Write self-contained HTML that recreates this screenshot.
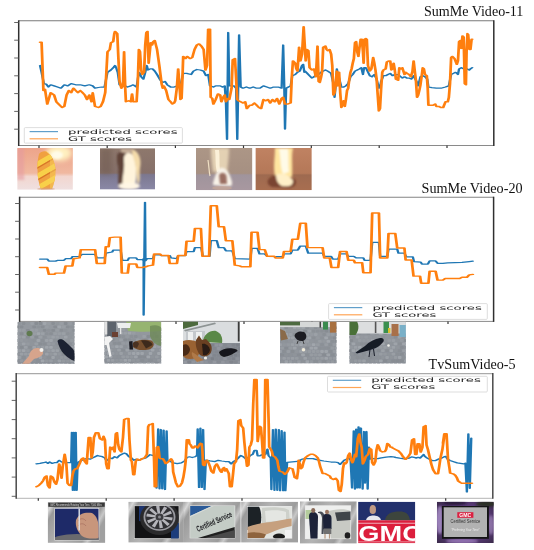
<!DOCTYPE html>
<html><head><meta charset="utf-8"><title>Summary scores</title>
<style>
html,body{margin:0;padding:0;background:#fff;}
body{width:534px;height:550px;overflow:hidden;}
svg{display:block;}
</style></head>
<body>
<svg width="534" height="550" viewBox="0 0 534 550">
<rect x="0" y="0" width="534" height="550" fill="#fff"/>
<text x="423.9" y="16.3" font-family="Liberation Serif, serif" font-size="14" fill="#111" textLength="99.5" lengthAdjust="spacingAndGlyphs">SumMe Video-11</text>
<text x="421.6" y="193.2" font-family="Liberation Serif, serif" font-size="14" fill="#111" textLength="101" lengthAdjust="spacingAndGlyphs">SumMe Video-20</text>
<text x="428.6" y="369.0" font-family="Liberation Serif, serif" font-size="14" fill="#111" textLength="87" lengthAdjust="spacingAndGlyphs">TvSumVideo-5</text>
<line x1="18.7" y1="20.8" x2="493.8" y2="20.8" stroke="#7a7a7a" stroke-width="1.1"/>
<line x1="18.7" y1="145.5" x2="493.8" y2="145.5" stroke="#8a8a8a" stroke-width="1.0"/>
<line x1="18.7" y1="20.3" x2="18.7" y2="146.0" stroke="#303030" stroke-width="1.5"/>
<line x1="493.8" y1="20.3" x2="493.8" y2="146.0" stroke="#303030" stroke-width="1.5"/>
<line x1="14.2" y1="22.5" x2="18.7" y2="22.5" stroke="#555" stroke-width="0.9"/>
<line x1="14.2" y1="40.2" x2="18.7" y2="40.2" stroke="#555" stroke-width="0.9"/>
<line x1="14.2" y1="58" x2="18.7" y2="58" stroke="#555" stroke-width="0.9"/>
<line x1="14.2" y1="75.8" x2="18.7" y2="75.8" stroke="#555" stroke-width="0.9"/>
<line x1="14.2" y1="93.6" x2="18.7" y2="93.6" stroke="#555" stroke-width="0.9"/>
<line x1="14.2" y1="111.4" x2="18.7" y2="111.4" stroke="#555" stroke-width="0.9"/>
<line x1="14.2" y1="129.2" x2="18.7" y2="129.2" stroke="#555" stroke-width="0.9"/>
<line x1="39" y1="145.5" x2="39" y2="148.0" stroke="#333" stroke-width="1.2"/>
<line x1="107.2" y1="145.5" x2="107.2" y2="148.0" stroke="#333" stroke-width="1.2"/>
<line x1="175.4" y1="145.5" x2="175.4" y2="148.0" stroke="#333" stroke-width="1.2"/>
<line x1="243.5" y1="145.5" x2="243.5" y2="148.0" stroke="#333" stroke-width="1.2"/>
<line x1="311.3" y1="145.5" x2="311.3" y2="148.0" stroke="#333" stroke-width="1.2"/>
<line x1="379.2" y1="145.5" x2="379.2" y2="148.0" stroke="#333" stroke-width="1.2"/>
<line x1="447" y1="145.5" x2="447" y2="148.0" stroke="#333" stroke-width="1.2"/>
<g transform="scale(1.9 1)"><polyline points="21.05,65.5 21.89,72.3 23.09,83.6 24.28,84.1 25.48,87.0 26.67,84.8 28.47,85.9 30.26,87.0 32.06,88.2 33.85,84.8 35.65,85.9 37.44,83.6 39.83,84.8 42.22,84.8 44.62,85.9 47.01,84.8 48.80,85.9 50.00,88.2 51.79,87.5 53.59,87.0 55.02,87.0 56.58,72.3 58.37,70.0 60.17,66.6 60.53,65.5 61.12,67.7 61.96,72.3 62.92,84.8 64.11,85.9 65.91,85.9 67.11,87.0 68.90,85.9 70.10,84.8 71.89,87.0 73.09,72.3 73.68,73.4 74.28,76.8 75.48,79.1 76.44,72.3 77.27,65.5 77.87,70.0 79.07,68.9 80.26,68.9 81.46,71.1 82.66,74.5 84.45,80.2 85.65,82.5 86.84,81.4 88.04,84.8 89.83,87.0 91.63,87.0 93.42,85.9 95.22,83.6 96.41,73.4 98.21,73.4 100.60,74.5 101.79,71.1 103.59,69.5 105.38,70.0 107.18,71.1 108.37,75.7 109.57,74.5 110.53,85.9 112.32,87.0 113.52,85.9 114.71,85.9 115.91,85.9 117.11,87.0 118.30,85.9 118.90,101.8 119.50,139.3 120.10,32.5 120.69,85.9 121.89,85.9 123.09,85.9 124.28,88.2 124.88,139.3 125.84,34.8 126.67,87.0 127.87,88.2 129.67,87.0 131.46,88.2 133.25,87.0 135.05,88.2 136.84,88.2 138.64,85.9 140.43,87.0 142.22,88.2 144.02,87.0 146.41,87.0 148.21,88.2 149.04,45.0 149.64,88.2 150.00,129.1 150.60,88.2 151.79,87.0 152.99,85.9 153.83,75.7 155.38,74.5 156.58,72.3 157.78,71.1 158.97,65.5 159.57,64.3 160.17,72.3 160.53,71.1 161.72,73.4 162.92,75.7 164.11,78.0 165.31,76.8 166.51,74.5 167.70,74.5 168.90,72.3 170.10,71.1 171.29,70.0 172.49,71.1 174.28,73.4 175.48,83.6 176.08,97.3 176.67,85.9 177.27,68.9 177.87,74.5 178.47,78.0 179.07,82.5 179.67,87.0 180.86,87.0 182.06,85.9 183.25,83.6 184.45,76.8 185.65,74.5 186.84,71.1 188.04,70.0 189.23,68.9 190.19,67.7 191.03,74.5 191.63,67.7 192.58,67.7 193.42,71.1 194.62,75.7 195.81,76.8 197.01,74.5 198.21,79.1 199.40,88.2 200.00,87.0 200.60,81.4 201.79,75.7 202.99,75.7 204.19,74.5 205.38,73.4 206.58,75.7 207.78,74.5 209.57,74.5 211.72,78.0 212.92,76.8 214.11,78.0 215.31,78.0 216.51,79.1 217.70,75.7 218.30,78.0 219.50,82.5 220.10,85.9 221.29,76.8 222.49,75.7 223.68,76.8 224.88,79.1 225.48,87.0 227.27,87.7 229.67,88.2 232.06,88.2 234.45,87.0 236.24,85.9 237.44,74.5 238.64,73.4 239.83,72.3 241.03,74.5 241.63,68.9 242.82,67.7 244.02,68.9 245.22,70.0 245.81,68.9 247.01,70.0 247.61,68.9 248.56,67.7" fill="none" stroke="#1f77b4" stroke-width="1.25" stroke-linejoin="round" stroke-linecap="round"/></g>
<g transform="scale(1.9 1)"><polyline points="21.05,42.3 21.89,42.3 22.85,90.5 23.68,89.3 24.88,104.1 26.67,92.7 28.47,95.0 29.67,101.8 30.86,104.1 32.66,107.5 33.85,106.4 35.05,95.0 36.24,90.5 37.44,92.7 38.64,88.2 39.83,90.5 41.03,92.7 42.22,90.5 43.42,92.7 44.62,95.0 45.81,99.5 47.01,95.0 48.21,101.8 48.80,92.7 50.00,106.4 51.79,107.5 52.99,106.4 54.19,101.8 55.38,92.7 56.58,51.8 57.78,49.5 58.37,42.7 59.57,41.6 60.17,33.6 60.53,31.4 61.72,33.6 62.32,58.6 62.92,81.4 63.88,88.2 64.71,85.9 65.31,51.8 65.91,88.2 66.27,101.8 67.70,100.7 68.90,101.8 69.50,93.9 70.10,101.8 71.89,101.8 72.49,83.6 73.09,49.5 73.68,51.8 74.28,70.0 74.88,74.5 75.84,72.3 76.44,45.0 77.03,32.5 77.63,31.4 78.23,63.2 78.71,54.1 79.31,42.7 80.02,45.0 80.62,41.6 81.46,40.5 82.06,45.0 82.66,49.5 83.85,65.5 85.05,83.6 85.65,88.2 86.24,85.9 87.44,90.5 88.64,99.5 89.83,101.8 90.67,104.1 91.63,103.0 92.22,100.7 93.06,88.2 93.78,68.9 94.38,83.6 94.98,99.5 95.57,98.4 96.05,76.8 96.41,56.4 97.61,58.6 98.56,56.4 100.00,58.6 101.20,57.5 102.39,49.5 103.59,45.0 104.78,43.9 105.98,46.1 107.18,49.5 108.13,70.0 108.97,65.5 109.57,29.1 110.53,29.1 110.89,97.3 111.72,98.4 112.32,104.1 113.52,99.5 114.71,93.9 115.91,95.0 116.51,101.8 117.46,97.3 118.30,95.0 118.90,101.8 119.86,98.4 120.69,99.5 121.89,88.2 122.49,59.8 123.68,58.6 124.28,79.1 124.88,99.5 125.48,100.7 126.67,101.8 127.87,103.0 129.07,101.8 129.90,108.6 131.46,105.2 132.66,105.2 133.85,103.0 135.05,105.2 136.24,107.5 137.44,108.6 138.64,99.5 139.83,100.7 141.03,99.5 142.22,103.0 143.42,99.5 144.62,101.8 145.81,98.4 147.01,104.1 148.21,98.4 149.04,97.3 150.00,104.1 151.20,104.1 152.99,103.0 153.59,76.8 154.19,60.9 155.38,63.2 155.98,68.9 156.58,71.1 157.42,47.3 158.13,60.9 158.97,54.1 159.81,26.8 160.89,60.9 161.48,49.5 162.32,50.7 162.92,67.7 164.11,70.0 165.31,68.9 166.27,76.8 167.11,46.1 167.70,81.4 168.30,82.5 168.90,78.0 169.50,72.3 170.10,47.3 171.29,46.1 171.89,49.5 172.49,50.7 173.44,49.5 174.28,54.1 174.88,65.5 175.48,95.0 176.08,92.7 176.67,83.6 177.27,71.1 177.87,85.9 178.47,72.3 179.07,92.7 179.67,107.5 180.26,104.1 180.86,100.7 181.46,106.4 182.06,99.5 182.66,90.5 183.25,88.2 183.85,79.1 184.45,72.3 185.05,68.9 185.65,63.2 186.24,58.6 186.84,42.7 187.44,41.6 188.04,51.8 188.64,56.4 189.23,47.3 189.83,39.3 190.43,39.3 191.03,51.8 191.39,63.2 191.87,39.3 192.58,38.6 193.06,39.3 193.66,65.5 194.62,71.1 195.45,68.9 196.41,57.5 197.01,63.2 197.61,70.0 198.21,79.1 198.80,95.0 199.40,110.9 200.00,108.6 200.60,88.2 201.20,72.3 201.79,70.0 202.99,68.9 203.59,62.0 204.55,60.9 205.38,60.9 205.98,70.0 206.58,68.9 207.18,63.2 207.78,70.0 208.37,79.1 209.57,80.2 210.17,67.7 211.12,68.9 211.72,67.7 212.32,71.1 212.92,74.5 213.52,72.3 214.11,73.4 215.31,74.5 216.27,76.8 217.11,71.1 217.70,60.9 218.30,71.1 218.90,80.2 219.50,97.3 220.10,95.0 220.69,90.5 221.29,84.8 221.89,76.8 222.49,67.7 223.09,68.9 223.68,74.5 224.64,75.7 225.12,88.2 225.48,105.2 226.67,105.2 227.87,105.2 229.07,104.1 229.67,106.4 230.86,106.4 232.06,107.5 233.25,107.5 234.45,101.8 235.65,101.8 236.24,97.3 236.84,83.6 237.44,57.5 238.04,56.4 239.23,58.6 240.43,64.3 241.03,60.9 241.63,41.6 242.22,40.5 242.82,48.4 243.42,35.9 244.02,37.0 244.62,83.6 245.22,84.8 245.57,51.8 246.05,33.6 246.41,34.8 246.77,42.7 247.13,49.5 247.61,49.5 248.21,39.3 248.56,39.3" fill="none" stroke="#ff7f0e" stroke-width="1.45" stroke-linejoin="round" stroke-linecap="round"/></g>
<rect x="24.3" y="127.6" width="158.1" height="15.5" fill="#fff" fill-opacity="0.85" stroke="#d4d4d4" stroke-width="0.8" rx="1"/>
<line x1="29.6" y1="131.6" x2="58.0" y2="131.6" stroke="#1f77b4" stroke-width="1.2" opacity="0.7"/>
<line x1="29.6" y1="138.79999999999998" x2="58.0" y2="138.79999999999998" stroke="#ff7f0e" stroke-width="1.2" opacity="0.7"/>
<text x="68.1" y="133.6" font-family="DejaVu Sans, sans-serif" font-size="6.3" fill="#222" textLength="109.5" lengthAdjust="spacingAndGlyphs">predicted scores</text>
<text x="68.1" y="140.5" font-family="DejaVu Sans, sans-serif" font-size="6.3" fill="#222" textLength="64" lengthAdjust="spacingAndGlyphs">GT scores</text>
<line x1="19.6" y1="197.2" x2="493.6" y2="197.2" stroke="#858585" stroke-width="1.1"/>
<line x1="19.6" y1="321.4" x2="493.6" y2="321.4" stroke="#8a8a8a" stroke-width="1.0"/>
<line x1="19.6" y1="196.7" x2="19.6" y2="321.9" stroke="#303030" stroke-width="1.5"/>
<line x1="493.6" y1="196.7" x2="493.6" y2="321.9" stroke="#303030" stroke-width="1.5"/>
<line x1="15.100000000000001" y1="203.5" x2="19.6" y2="203.5" stroke="#555" stroke-width="0.9"/>
<line x1="15.100000000000001" y1="221.3" x2="19.6" y2="221.3" stroke="#555" stroke-width="0.9"/>
<line x1="15.100000000000001" y1="239" x2="19.6" y2="239" stroke="#555" stroke-width="0.9"/>
<line x1="15.100000000000001" y1="256.7" x2="19.6" y2="256.7" stroke="#555" stroke-width="0.9"/>
<line x1="15.100000000000001" y1="274.5" x2="19.6" y2="274.5" stroke="#555" stroke-width="0.9"/>
<line x1="15.100000000000001" y1="292.2" x2="19.6" y2="292.2" stroke="#555" stroke-width="0.9"/>
<line x1="15.100000000000001" y1="310" x2="19.6" y2="310" stroke="#555" stroke-width="0.9"/>
<line x1="40" y1="321.4" x2="40" y2="323.9" stroke="#333" stroke-width="1.2"/>
<line x1="108" y1="321.4" x2="108" y2="323.9" stroke="#333" stroke-width="1.2"/>
<line x1="176" y1="321.4" x2="176" y2="323.9" stroke="#333" stroke-width="1.2"/>
<line x1="244" y1="321.4" x2="244" y2="323.9" stroke="#333" stroke-width="1.2"/>
<line x1="312" y1="321.4" x2="312" y2="323.9" stroke="#333" stroke-width="1.2"/>
<line x1="380" y1="321.4" x2="380" y2="323.9" stroke="#333" stroke-width="1.2"/>
<line x1="448" y1="321.4" x2="448" y2="323.9" stroke="#333" stroke-width="1.2"/>
<g transform="scale(1.9 1)"><polyline points="21.04,259.1 24.83,259.1 25.71,261.1 29.24,261.1 30.51,260.3 33.66,260.3 34.54,258.7 37.45,258.7 38.08,256.7 41.87,256.3 43.13,254.4 50.07,254.4 50.95,257.9 55.12,257.9 55.75,253.2 59.05,252.0 59.68,250.0 63.47,250.0 64.35,260.3 67.25,260.3 67.88,257.9 71.67,257.9 72.30,259.6 74.83,259.6 75.46,260.3 75.60,258.6 75.60,315.0 76.32,202.3 76.56,260.9 77.35,258.7 80.51,258.7 81.14,254.8 84.29,254.8 84.92,255.5 89.34,255.5 89.97,257.9 93.13,258.7 93.76,255.5 97.55,255.5 98.18,251.5 101.96,251.5 102.59,247.6 105.75,247.6 105.89,247.6 106.78,256.3 110.31,256.3 110.94,240.7 114.10,240.7 115.11,247.6 117.88,247.6 118.89,250.8 122.30,250.8 123.56,258.7 131.77,259.1 132.40,248.4 135.55,248.4 136.56,253.9 139.34,253.9 140.60,256.3 148.81,256.7 149.44,253.9 152.97,253.9 153.86,250.0 156.76,250.0 158.04,246.0 160.94,246.0 162.20,253.2 169.78,253.2 170.66,256.3 174.20,256.3 175.21,259.1 177.98,259.1 178.99,253.9 182.40,253.9 183.28,256.3 186.19,256.3 187.45,257.9 191.23,257.9 191.87,260.3 195.02,260.3 195.90,242.4 199.44,242.4 200.07,256.3 203.86,256.3 204.49,249.1 209.06,249.2 209.69,253.2 212.85,253.2 213.86,256.8 217.27,256.8 217.90,261.6 221.44,262.1 222.07,264.0 225.23,264.0 226.12,260.9 229.28,260.9 230.29,263.3 233.07,263.3 235.60,262.8 243.18,262.4 246.97,261.6 248.87,261.2" fill="none" stroke="#1f77b4" stroke-width="1.25" stroke-linejoin="round" stroke-linecap="round"/></g>
<g transform="scale(1.9 1)"><polyline points="21.04,267.5 24.83,267.5 25.71,274.3 28.61,274.3 29.24,273.1 33.66,273.1 34.54,265.9 38.08,265.9 38.71,258.7 41.87,257.9 42.50,249.8 50.07,249.8 50.95,263.5 55.12,263.5 55.64,246.7 57.16,246.7 57.79,237.6 60.31,237.1 63.47,237.1 64.10,273.1 67.25,273.1 67.88,263.9 71.67,263.9 72.30,267.5 74.83,267.5 76.72,266.8 77.98,265.9 80.51,265.1 81.14,253.9 84.29,253.9 84.92,255.5 88.71,255.5 89.34,263.5 93.13,263.5 93.76,255.5 97.55,255.5 98.18,241.2 101.96,241.2 102.59,228.5 105.75,228.5 106.53,256.3 110.06,256.3 110.94,205.7 114.10,205.7 115.11,226.8 117.88,226.8 118.89,240.7 122.30,240.7 123.56,265.1 126.09,265.9 127.35,266.8 131.77,266.8 132.40,232.3 135.55,232.3 136.56,249.6 139.34,249.6 140.60,256.3 144.39,256.3 145.02,257.9 148.81,257.9 149.44,251.5 152.97,251.5 153.86,239.2 156.76,239.2 158.04,223.2 160.94,223.2 161.83,247.6 169.78,247.6 170.66,257.9 173.56,257.9 174.45,267.5 177.98,267.5 178.99,251.5 182.40,251.5 183.28,260.3 186.19,260.3 186.82,262.7 190.60,262.7 191.23,272.8 195.02,272.8 195.90,212.9 199.44,212.9 200.07,257.9 203.86,257.9 204.49,233.5 208.04,233.5 209.06,248.0 212.85,248.0 213.48,260.0 216.64,260.0 217.65,276.1 221.06,276.1 221.69,283.3 225.49,283.3 226.12,271.3 229.28,271.3 230.29,280.1 233.07,280.1 234.33,278.5 241.92,278.5 243.18,277.3 245.71,277.3 246.97,274.9 248.87,274.4" fill="none" stroke="#ff7f0e" stroke-width="1.45" stroke-linejoin="round" stroke-linecap="round"/></g>
<rect x="328.6" y="303.6" width="158.7" height="15.799999999999955" fill="#fff" fill-opacity="0.85" stroke="#d4d4d4" stroke-width="0.8" rx="1"/>
<line x1="333.90000000000003" y1="307.6" x2="362.3" y2="307.6" stroke="#1f77b4" stroke-width="1.2" opacity="0.7"/>
<line x1="333.90000000000003" y1="314.8" x2="362.3" y2="314.8" stroke="#ff7f0e" stroke-width="1.2" opacity="0.7"/>
<text x="372.40000000000003" y="309.6" font-family="DejaVu Sans, sans-serif" font-size="6.3" fill="#222" textLength="109.5" lengthAdjust="spacingAndGlyphs">predicted scores</text>
<text x="372.40000000000003" y="316.5" font-family="DejaVu Sans, sans-serif" font-size="6.3" fill="#222" textLength="64" lengthAdjust="spacingAndGlyphs">GT scores</text>
<line x1="16.2" y1="373.6" x2="492.8" y2="373.6" stroke="#aaaaaa" stroke-width="1.1"/>
<line x1="16.2" y1="498.3" x2="492.8" y2="498.3" stroke="#b4b4b4" stroke-width="1.0"/>
<line x1="16.2" y1="373.1" x2="16.2" y2="498.8" stroke="#4a4a4a" stroke-width="1.5"/>
<line x1="492.8" y1="373.1" x2="492.8" y2="498.8" stroke="#4a4a4a" stroke-width="1.5"/>
<line x1="11.7" y1="381.2" x2="16.2" y2="381.2" stroke="#555" stroke-width="0.9"/>
<line x1="11.7" y1="400.4" x2="16.2" y2="400.4" stroke="#555" stroke-width="0.9"/>
<line x1="11.7" y1="419.6" x2="16.2" y2="419.6" stroke="#555" stroke-width="0.9"/>
<line x1="11.7" y1="438.7" x2="16.2" y2="438.7" stroke="#555" stroke-width="0.9"/>
<line x1="11.7" y1="457.9" x2="16.2" y2="457.9" stroke="#555" stroke-width="0.9"/>
<line x1="11.7" y1="477.1" x2="16.2" y2="477.1" stroke="#555" stroke-width="0.9"/>
<line x1="11.7" y1="496.3" x2="16.2" y2="496.3" stroke="#555" stroke-width="0.9"/>
<line x1="38.3" y1="498.3" x2="38.3" y2="500.8" stroke="#333" stroke-width="1.2"/>
<line x1="106.2" y1="498.3" x2="106.2" y2="500.8" stroke="#333" stroke-width="1.2"/>
<line x1="174.1" y1="498.3" x2="174.1" y2="500.8" stroke="#333" stroke-width="1.2"/>
<line x1="242" y1="498.3" x2="242" y2="500.8" stroke="#333" stroke-width="1.2"/>
<line x1="309.9" y1="498.3" x2="309.9" y2="500.8" stroke="#333" stroke-width="1.2"/>
<line x1="377.8" y1="498.3" x2="377.8" y2="500.8" stroke="#333" stroke-width="1.2"/>
<line x1="445.7" y1="498.3" x2="445.7" y2="500.8" stroke="#333" stroke-width="1.2"/>
<g transform="scale(1.9 1)"><polyline points="19.15,463.9 21.04,463.4 22.93,462.7 24.20,462.0 25.21,463.4 26.09,462.0 27.35,463.4 28.61,462.7 29.88,462.7 31.14,460.3 32.40,462.0 33.66,462.7 35.55,462.7 37.45,462.7 37.83,432.3 38.33,490.3 38.84,432.3 39.34,490.3 39.85,432.3 40.35,490.3 40.86,462.7 41.87,461.5 43.13,460.3 44.39,459.1 45.65,458.6 47.55,459.1 48.81,457.9 50.07,456.7 51.33,455.5 52.59,456.2 53.86,456.7 55.12,457.9 55.89,460.3 56.53,460.3 57.79,457.9 59.05,458.6 60.31,456.7 61.57,457.9 62.84,455.5 64.10,454.3 65.36,453.1 66.62,453.9 67.88,456.7 69.15,457.9 70.41,460.3 71.67,459.1 72.93,460.3 74.20,459.1 75.46,458.6 76.72,457.9 77.98,456.2 78.95,454.7 80.38,455.4 81.82,456.8 82.39,488.1 83.25,428.9 83.97,488.8 84.68,429.5 85.40,488.8 86.12,430.2 86.83,489.5 87.70,430.9 88.13,460.9 89.70,461.6 91.14,462.9 93.29,463.6 95.44,462.9 97.23,460.9 98.31,457.5 99.74,456.8 101.18,457.5 102.61,456.8 103.69,455.4 104.04,428.9 104.76,487.4 105.48,428.2 106.20,487.4 106.91,429.5 107.63,489.5 108.35,460.2 110.50,460.9 113.15,461.6 114.86,460.3 116.62,461.0 118.52,461.5 120.41,461.5 121.67,463.9 122.93,461.5 124.20,460.3 125.46,457.9 126.72,455.5 127.98,456.7 129.24,458.6 130.51,457.9 131.77,455.5 133.03,454.3 133.88,450.3 135.03,450.3 135.60,455.8 136.75,455.8 137.90,454.7 139.62,454.7 140.77,449.2 141.35,455.8 142.50,458.0 142.84,489.6 143.65,429.6 144.45,490.3 145.14,429.1 145.94,490.3 146.75,429.6 147.44,490.7 148.24,430.7 149.05,490.7 149.74,432.2 150.20,490.7 151.11,462.3 157.89,461.2 157.79,460.3 159.05,459.1 160.94,458.6 162.84,458.6 164.73,458.6 166.62,459.6 168.52,460.3 170.41,461.0 172.30,461.5 174.20,462.0 176.09,462.0 177.98,462.7 178.99,464.4 179.88,462.7 181.14,460.3 182.40,459.1 183.66,457.9 184.54,460.3 185.30,487.9 186.19,430.8 186.82,489.1 187.45,429.2 188.08,487.9 188.71,426.8 189.34,487.9 189.97,428.0 190.86,489.1 191.61,431.5 192.12,483.1 192.88,431.5 193.51,489.1 194.14,447.1 194.64,459.1 196.28,458.6 198.81,458.6 200.70,457.9 203.22,457.2 205.75,456.7 207.89,457.2 207.79,457.3 210.32,458.1 212.85,458.8 215.37,458.1 216.64,456.9 217.90,457.3 219.17,458.1 220.18,457.3 221.06,458.1 222.33,455.7 222.96,454.5 223.59,456.4 224.85,458.1 226.12,459.3 227.38,460.5 229.28,460.5 231.17,458.8 232.44,458.1 233.70,456.9 234.59,456.4 235.60,459.3 236.86,460.5 238.76,461.7 240.65,462.9 243.18,463.6 245.08,464.1 244.97,463.2 245.73,491.9 246.50,433.8 247.26,488.3 248.03,438.2" fill="none" stroke="#1f77b4" stroke-width="1.25" stroke-linejoin="round" stroke-linecap="round"/></g>
<g transform="scale(1.9 1)"><polyline points="19.15,486.7 20.41,485.5 21.67,483.1 22.68,480.7 23.56,477.1 24.45,475.9 25.21,485.5 26.09,487.9 26.72,475.9 27.73,477.1 28.61,481.9 29.50,484.3 30.25,479.5 31.14,463.9 31.77,468.7 32.40,478.3 33.03,466.3 34.04,454.3 34.92,463.9 35.55,483.1 36.56,485.5 37.45,485.5 38.08,475.9 38.71,471.1 39.59,468.7 40.60,468.7 41.87,463.9 42.88,459.1 43.76,457.9 44.64,461.5 45.65,463.9 46.66,437.5 47.55,437.5 48.18,457.9 48.81,451.9 49.44,437.5 50.45,432.7 51.71,432.7 52.59,438.7 53.86,439.9 54.49,436.3 55.24,439.9 55.89,463.9 56.53,468.7 57.16,468.7 58.04,447.1 59.05,449.5 59.68,447.1 60.31,451.9 60.94,433.9 61.57,432.7 62.20,444.7 62.84,449.5 63.85,451.9 64.73,437.5 65.36,419.6 66.62,418.4 67.63,418.4 68.14,439.9 68.89,460.3 69.40,461.5 70.16,474.7 70.66,474.7 71.42,461.5 72.30,459.1 73.56,460.3 74.83,458.6 76.09,457.9 77.35,454.3 77.98,426.8 78.61,424.4 79.24,424.4 79.66,424.1 80.38,423.4 81.10,460.9 81.46,486.8 82.17,486.8 82.53,447.2 83.25,446.6 83.61,451.3 83.97,458.1 84.68,458.8 85.76,458.8 86.48,460.9 87.19,463.6 87.91,462.9 88.99,460.9 90.06,458.8 90.78,460.9 91.14,471.8 91.85,477.2 92.57,482.7 93.65,486.8 94.72,486.1 95.80,482.7 96.52,477.2 97.23,469.0 97.73,460.9 98.31,439.8 99.38,439.8 99.74,443.8 100.46,445.2 101.18,447.9 101.89,447.9 102.61,445.9 103.33,446.6 104.04,447.9 104.76,445.2 105.48,443.2 106.20,443.8 106.55,451.3 106.91,465.0 107.63,465.6 108.35,460.9 109.06,460.2 109.78,462.9 110.50,466.3 111.21,471.1 112.29,473.1 113.09,466.3 114.10,463.9 114.73,466.3 115.36,468.7 115.99,471.1 116.62,472.3 117.25,468.7 117.88,467.5 118.52,471.1 119.15,468.7 119.78,471.1 120.41,473.5 121.04,486.7 121.92,486.7 122.68,473.5 123.19,463.9 124.20,461.5 124.83,449.5 125.46,420.8 126.47,419.6 126.97,425.6 127.98,428.0 128.61,442.3 129.24,454.3 130.00,466.3 130.76,465.1 131.26,447.1 132.02,444.7 132.65,439.9 133.28,404.0 133.88,379.4 135.03,379.4 135.60,441.6 136.75,426.3 137.32,427.4 137.90,440.5 138.47,458.0 139.05,458.0 139.62,379.4 140.77,379.4 141.35,418.7 141.69,447.1 142.50,449.2 143.07,451.4 143.65,455.8 144.79,456.9 145.94,460.2 146.52,466.7 147.09,471.1 148.82,472.2 149.97,474.3 151.11,472.2 152.26,467.8 153.99,468.9 155.14,477.6 156.29,478.7 156.86,471.1 157.16,460.3 157.79,463.9 158.42,468.7 159.05,467.5 159.68,462.7 160.56,457.9 162.20,455.5 163.47,454.3 164.73,454.3 165.99,455.5 167.25,457.9 167.88,461.5 168.52,466.3 169.15,469.9 169.78,473.5 171.04,473.5 172.30,474.7 173.56,475.9 174.20,478.3 175.46,479.5 176.72,478.3 177.73,480.7 178.36,490.3 179.24,491.5 179.88,484.3 180.51,468.7 181.14,462.7 181.77,463.9 182.40,462.7 183.28,455.5 184.04,453.1 184.92,460.3 185.55,462.7 186.19,459.1 186.82,454.3 187.45,456.7 188.33,438.7 189.09,433.9 189.72,442.3 190.35,447.1 190.98,463.9 191.87,460.3 192.50,456.7 193.76,454.3 194.64,448.3 195.40,449.5 195.90,462.7 196.66,465.1 197.55,461.5 198.18,449.5 198.81,444.7 199.44,447.1 200.07,450.7 201.33,451.9 202.59,451.5 203.22,449.5 203.86,443.5 204.74,444.7 205.50,447.1 206.38,447.1 205.90,447.3 207.16,448.5 208.42,449.7 209.69,450.9 210.95,453.3 212.21,456.9 213.48,459.3 214.74,456.9 216.01,453.3 216.89,440.0 217.90,438.8 218.53,454.5 219.17,454.5 219.80,443.6 220.68,443.6 221.44,452.1 222.33,447.3 222.96,426.8 223.97,425.6 224.48,444.8 225.23,449.7 226.12,456.9 227.00,464.1 228.01,470.1 229.28,473.7 230.54,473.7 231.17,466.5 231.81,458.1 232.82,449.7 233.70,437.6 233.11,443.3 233.87,433.8 235.02,433.8 235.79,459.2 236.55,468.0 236.93,473.1 238.46,473.8 239.61,475.2 240.38,477.4 241.14,481.0 242.29,482.5 243.05,483.2 248.41,483.2" fill="none" stroke="#ff7f0e" stroke-width="1.45" stroke-linejoin="round" stroke-linecap="round"/></g>
<rect x="327.5" y="376.3" width="159.8" height="15.699999999999989" fill="#fff" fill-opacity="0.85" stroke="#d4d4d4" stroke-width="0.8" rx="1"/>
<line x1="332.8" y1="380.3" x2="361.2" y2="380.3" stroke="#1f77b4" stroke-width="1.2" opacity="0.7"/>
<line x1="332.8" y1="387.5" x2="361.2" y2="387.5" stroke="#ff7f0e" stroke-width="1.2" opacity="0.7"/>
<text x="371.3" y="382.3" font-family="DejaVu Sans, sans-serif" font-size="6.3" fill="#222" textLength="109.5" lengthAdjust="spacingAndGlyphs">predicted scores</text>
<text x="371.3" y="389.2" font-family="DejaVu Sans, sans-serif" font-size="6.3" fill="#222" textLength="64" lengthAdjust="spacingAndGlyphs">GT scores</text>
<defs>
<filter id="b1" x="-30%" y="-30%" width="160%" height="160%"><feGaussianBlur stdDeviation="1.0"/></filter>
<filter id="b2" x="-50%" y="-50%" width="200%" height="200%"><feGaussianBlur stdDeviation="2.5"/></filter>
<filter id="b05" x="-30%" y="-30%" width="160%" height="160%"><feGaussianBlur stdDeviation="0.5"/></filter>
<filter id="b07" x="-30%" y="-30%" width="160%" height="160%"><feGaussianBlur stdDeviation="0.7"/></filter>
<linearGradient id="gp1" x1="0" y1="0" x2="0" y2="1"><stop offset="0" stop-color="#eda48a"/><stop offset="0.6" stop-color="#f0b8a0"/><stop offset="0.68" stop-color="#f2d6cf"/><stop offset="1" stop-color="#efe0e0"/></linearGradient>
<linearGradient id="gp2" x1="0" y1="0" x2="0" y2="1"><stop offset="0" stop-color="#8e786c"/><stop offset="0.6" stop-color="#86706a"/><stop offset="0.64" stop-color="#7c7890"/><stop offset="1" stop-color="#8a88a6"/></linearGradient>
<linearGradient id="gp3" x1="0" y1="0" x2="0" y2="1"><stop offset="0" stop-color="#ac9686"/><stop offset="0.6" stop-color="#a69082"/><stop offset="0.64" stop-color="#a0949c"/><stop offset="1" stop-color="#a898a0"/></linearGradient>
<linearGradient id="gp4" x1="0" y1="0" x2="0" y2="1"><stop offset="0" stop-color="#c08262"/><stop offset="0.6" stop-color="#b47858"/><stop offset="0.64" stop-color="#9e6a50"/><stop offset="1" stop-color="#a86e50"/></linearGradient>
<linearGradient id="gpave" x1="0" y1="0" x2="0" y2="1"><stop offset="0" stop-color="#959aa0"/><stop offset="1" stop-color="#8a8f97"/></linearGradient>
<linearGradient id="gframe" x1="0" y1="0" x2="1" y2="0.4"><stop offset="0" stop-color="#a8a8a8"/><stop offset="0.08" stop-color="#d8d8d8"/><stop offset="0.16" stop-color="#9a9a9a"/><stop offset="0.5" stop-color="#b4b4b4"/><stop offset="0.85" stop-color="#9c9c9c"/><stop offset="0.93" stop-color="#c8c8c8"/><stop offset="1" stop-color="#a0a0a0"/></linearGradient>
<radialGradient id="gpurple" cx="0.5" cy="0.5" r="0.7"><stop offset="0" stop-color="#8a6aa8"/><stop offset="0.6" stop-color="#5a3a78"/><stop offset="1" stop-color="#3a2a4a"/></radialGradient>
<clipPath id="cp1"><rect x="17.2" y="148" width="55.7" height="41.8"/></clipPath>
<clipPath id="cp2"><rect x="100" y="148.2" width="55" height="41.4"/></clipPath>
<clipPath id="cp3"><rect x="196" y="148" width="56.4" height="42.2"/></clipPath>
<clipPath id="cp4"><rect x="255.4" y="148" width="56.4" height="42.2"/></clipPath>
<clipPath id="cq1"><rect x="17.4" y="321.8" width="57.2" height="42"/></clipPath>
<clipPath id="cq2"><rect x="104.3" y="321.5" width="57" height="42"/></clipPath>
<clipPath id="cq3"><rect x="183" y="321.5" width="57" height="42.4"/></clipPath>
<clipPath id="cq4"><rect x="280" y="321.6" width="56.6" height="42"/></clipPath>
<clipPath id="cq5"><rect x="349.3" y="321.5" width="56.6" height="42"/></clipPath>
<clipPath id="cr1"><rect x="55" y="508.4" width="43.7" height="31.5"/></clipPath>
<clipPath id="cr2"><rect x="134.4" y="506.1" width="44.4" height="32.3"/></clipPath>
<clipPath id="cr3"><rect x="190.1" y="505.9" width="44.7" height="32"/></clipPath>
<clipPath id="cr4"><rect x="247.4" y="506.4" width="44.4" height="31.8"/></clipPath>
<clipPath id="cr5"><rect x="305.3" y="505.7" width="45.4" height="33"/></clipPath>
<clipPath id="cr6"><rect x="358.1" y="501.7" width="57.2" height="41.6"/></clipPath>
<clipPath id="cr7"><rect x="436.9" y="501.7" width="56.9" height="41.4"/></clipPath>
</defs>
<!-- Row 1: fire photos -->
<clipPath id="vase1"><path d="M39,154 C41,151 46,150.5 48,152.5 C52,156 55,162 55.5,170 C55.5,178 54,184 52,189 L41,189.5 C39,184 37.5,178 37.5,170 C37,164 38,158 39,154 Z"/></clipPath>
<g clip-path="url(#cp1)">
<rect x="17.2" y="148" width="55.7" height="41.8" fill="url(#gp1)"/>
<rect x="17.2" y="148" width="7" height="32" fill="#e49aa0" opacity="0.55" filter="url(#b1)"/>
<ellipse cx="59" cy="153" rx="13" ry="8" fill="#fff0c0" filter="url(#b2)"/>
<ellipse cx="57" cy="155" rx="6" ry="4" fill="#fffbe8" filter="url(#b1)"/>
<g filter="url(#b05)"><g clip-path="url(#vase1)">
<rect x="36" y="150" width="21" height="40" fill="#f0a040"/>
<path d="M36,162 L57,150 L57,156 L36,168 Z M36,174 L57,162 L57,168 L36,180 Z M36,186 L57,174 L57,180 L36,192 Z" fill="#f8d048"/>
<path d="M44,150 L57,150 L57,160 Z" fill="#fbe070"/>
<path d="M36,168 L57,156 L57,157.5 L36,169.5 Z M36,180 L57,168 L57,169.5 L36,181.5 Z" fill="#d87828"/>
<rect x="50" y="150" width="7" height="40" fill="#f8d060" opacity="0.5"/>
</g></g>
<ellipse cx="46" cy="189" rx="9" ry="1.5" fill="#d8a080" opacity="0.6" filter="url(#b05)"/>
</g>
<g clip-path="url(#cp2)">
<rect x="100" y="148.2" width="55" height="41.4" fill="url(#gp2)"/>
<rect x="100" y="148.2" width="12" height="26" fill="#6e5a50" opacity="0.5" filter="url(#b2)"/>
<g filter="url(#b1)">
<path d="M117,155 C119,151 125,150 127,155 L127,188 L119,189 C117,180 120,170 117,162 Z" fill="#5e4238"/>
<path d="M124,157 C126,151 133,151 135,160 C137,170 137,180 134,189 L123,189 C121,180 125,170 124,162 Z" fill="#fff4dc"/>
<path d="M131,149 C138,150 142,158 140,168 C139,174 141,180 138,185 C136,176 137,168 134,160 Z" fill="#f4dcaa"/>
<path d="M121,149 L134,149 C132,153 126,154 121,152 Z" fill="#c8b09a"/>
<ellipse cx="129" cy="186" rx="11" ry="3.5" fill="#fff6e4"/>
</g>
</g>
<g clip-path="url(#cp3)">
<rect x="196" y="148" width="56.4" height="42.2" fill="url(#gp3)"/>
<filter id="b15" x="-50%" y="-50%" width="200%" height="200%"><feGaussianBlur stdDeviation="1.5"/></filter>
<path d="M211,148 L229,148 C229,156 228,164 227,172 L213,172 C212,164 211,156 211,148 Z" fill="#eedcbc" opacity="0.85" filter="url(#b15)"/>
<path d="M215,150 C216,158 215,165 217,172 L220,171 C219,163 220,156 219,150 Z" fill="#fbf0d8" filter="url(#b07)"/>
<path d="M213,183 C215,176 217,170 220,168 C224,167 228,170 230,176 C232,181 233,184 231,186 C226,186 218,186 213,185 Z" fill="#f8f2e8" filter="url(#b1)"/>
<path d="M219,175 C221,172 225,172 226.5,176 L227,184 L220,184 Z" fill="#9a6e62" filter="url(#b1)"/>
<path d="M208,160 C209,166 209,172 210,176" stroke="#f0e0c4" stroke-width="1.2" fill="none" filter="url(#b05)"/>
<ellipse cx="222" cy="188" rx="10" ry="2" fill="#c8a898" opacity="0.7" filter="url(#b07)"/>
</g>
<g clip-path="url(#cp4)">
<rect x="255.4" y="148" width="56.4" height="42.2" fill="url(#gp4)"/>
<g filter="url(#b1)">
<path d="M275,148 C275,158 273,166 275,176 L292,177 C293,166 291,156 293,148 Z" fill="#ffe6a0"/>
<path d="M279,149 C281,158 280,166 283,174 L289,172 C288,162 289,156 288,149 Z" fill="#fffbe8"/>
<path d="M268,180 C271,175 277,174 281,177 L295,179 C298,184 294,188 288,188 L272,187 C268,185 267,183 268,180 Z" fill="#7a4430"/>
<path d="M276,175 C282,172 290,175 293,181 C293,186 288,187 282,186 C278,184 276,180 276,175 Z" fill="#fff0c8"/>
</g>
</g>
<!-- Row 2: crow photos -->
<g clip-path="url(#cq1)">
<rect x="17.4" y="321.8" width="57.2" height="42" fill="url(#gpave)"/>
<g filter="url(#b05)"><rect x="17.7" y="322.1" width="3.6" height="2.8" rx="0.8" fill="#91969c"/><rect x="21.9" y="322.1" width="3.6" height="2.8" rx="0.8" fill="#8b9096"/><rect x="26.1" y="322.1" width="3.6" height="2.8" rx="0.8" fill="#93989e"/><rect x="30.3" y="322.1" width="3.6" height="2.8" rx="0.8" fill="#9ba0a6"/><rect x="34.5" y="322.1" width="3.6" height="2.8" rx="0.8" fill="#888d93"/><rect x="38.7" y="322.1" width="3.6" height="2.8" rx="0.8" fill="#898e94"/><rect x="42.9" y="322.1" width="3.6" height="2.8" rx="0.8" fill="#a1a6ac"/><rect x="47.1" y="322.1" width="3.6" height="2.8" rx="0.8" fill="#989da3"/><rect x="51.3" y="322.1" width="3.6" height="2.8" rx="0.8" fill="#8a8f95"/><rect x="55.5" y="322.1" width="3.6" height="2.8" rx="0.8" fill="#92979d"/><rect x="59.7" y="322.1" width="3.6" height="2.8" rx="0.8" fill="#999ea4"/><rect x="63.9" y="322.1" width="3.6" height="2.8" rx="0.8" fill="#888d93"/><rect x="68.1" y="322.1" width="3.6" height="2.8" rx="0.8" fill="#979ca2"/><rect x="72.3" y="322.1" width="3.6" height="2.8" rx="0.8" fill="#8d9298"/><rect x="15.6" y="325.5" width="3.6" height="2.8" rx="0.8" fill="#888d93"/><rect x="19.8" y="325.5" width="3.6" height="2.8" rx="0.8" fill="#898e94"/><rect x="24.0" y="325.5" width="3.6" height="2.8" rx="0.8" fill="#94999f"/><rect x="28.2" y="325.5" width="3.6" height="2.8" rx="0.8" fill="#94999f"/><rect x="32.4" y="325.5" width="3.6" height="2.8" rx="0.8" fill="#898e94"/><rect x="36.6" y="325.5" width="3.6" height="2.8" rx="0.8" fill="#8e9399"/><rect x="40.8" y="325.5" width="3.6" height="2.8" rx="0.8" fill="#898e94"/><rect x="45.0" y="325.5" width="3.6" height="2.8" rx="0.8" fill="#989da3"/><rect x="49.2" y="325.5" width="3.6" height="2.8" rx="0.8" fill="#94999f"/><rect x="53.4" y="325.5" width="3.6" height="2.8" rx="0.8" fill="#888d93"/><rect x="57.6" y="325.5" width="3.6" height="2.8" rx="0.8" fill="#a1a6ac"/><rect x="61.8" y="325.5" width="3.6" height="2.8" rx="0.8" fill="#999ea4"/><rect x="66.0" y="325.5" width="3.6" height="2.8" rx="0.8" fill="#8a8f95"/><rect x="70.2" y="325.5" width="3.6" height="2.8" rx="0.8" fill="#8e9399"/><rect x="74.4" y="325.5" width="3.6" height="2.8" rx="0.8" fill="#9ba0a6"/><rect x="17.7" y="328.9" width="3.6" height="2.8" rx="0.8" fill="#9ba0a6"/><rect x="21.9" y="328.9" width="3.6" height="2.8" rx="0.8" fill="#999ea4"/><rect x="26.1" y="328.9" width="3.6" height="2.8" rx="0.8" fill="#888d93"/><rect x="30.3" y="328.9" width="3.6" height="2.8" rx="0.8" fill="#999ea4"/><rect x="34.5" y="328.9" width="3.6" height="2.8" rx="0.8" fill="#999ea4"/><rect x="38.7" y="328.9" width="3.6" height="2.8" rx="0.8" fill="#93989e"/><rect x="42.9" y="328.9" width="3.6" height="2.8" rx="0.8" fill="#888d93"/><rect x="47.1" y="328.9" width="3.6" height="2.8" rx="0.8" fill="#8e9399"/><rect x="51.3" y="328.9" width="3.6" height="2.8" rx="0.8" fill="#888d93"/><rect x="55.5" y="328.9" width="3.6" height="2.8" rx="0.8" fill="#989da3"/><rect x="59.7" y="328.9" width="3.6" height="2.8" rx="0.8" fill="#8b9096"/><rect x="63.9" y="328.9" width="3.6" height="2.8" rx="0.8" fill="#90959b"/><rect x="68.1" y="328.9" width="3.6" height="2.8" rx="0.8" fill="#94999f"/><rect x="72.3" y="328.9" width="3.6" height="2.8" rx="0.8" fill="#8b9096"/><rect x="15.6" y="332.3" width="3.6" height="2.8" rx="0.8" fill="#989da3"/><rect x="19.8" y="332.3" width="3.6" height="2.8" rx="0.8" fill="#8a8f95"/><rect x="24.0" y="332.3" width="3.6" height="2.8" rx="0.8" fill="#999ea4"/><rect x="28.2" y="332.3" width="3.6" height="2.8" rx="0.8" fill="#90959b"/><rect x="32.4" y="332.3" width="3.6" height="2.8" rx="0.8" fill="#989da3"/><rect x="36.6" y="332.3" width="3.6" height="2.8" rx="0.8" fill="#a1a6ac"/><rect x="40.8" y="332.3" width="3.6" height="2.8" rx="0.8" fill="#9ca1a7"/><rect x="45.0" y="332.3" width="3.6" height="2.8" rx="0.8" fill="#8c9197"/><rect x="49.2" y="332.3" width="3.6" height="2.8" rx="0.8" fill="#8a8f95"/><rect x="53.4" y="332.3" width="3.6" height="2.8" rx="0.8" fill="#999ea4"/><rect x="57.6" y="332.3" width="3.6" height="2.8" rx="0.8" fill="#999ea4"/><rect x="61.8" y="332.3" width="3.6" height="2.8" rx="0.8" fill="#9ba0a6"/><rect x="66.0" y="332.3" width="3.6" height="2.8" rx="0.8" fill="#8d9298"/><rect x="70.2" y="332.3" width="3.6" height="2.8" rx="0.8" fill="#92979d"/><rect x="74.4" y="332.3" width="3.6" height="2.8" rx="0.8" fill="#8a8f95"/><rect x="17.7" y="335.7" width="3.6" height="2.8" rx="0.8" fill="#989da3"/><rect x="21.9" y="335.7" width="3.6" height="2.8" rx="0.8" fill="#9da2a8"/><rect x="26.1" y="335.7" width="3.6" height="2.8" rx="0.8" fill="#898e94"/><rect x="30.3" y="335.7" width="3.6" height="2.8" rx="0.8" fill="#999ea4"/><rect x="34.5" y="335.7" width="3.6" height="2.8" rx="0.8" fill="#888d93"/><rect x="38.7" y="335.7" width="3.6" height="2.8" rx="0.8" fill="#9a9fa5"/><rect x="42.9" y="335.7" width="3.6" height="2.8" rx="0.8" fill="#8d9298"/><rect x="47.1" y="335.7" width="3.6" height="2.8" rx="0.8" fill="#969ba1"/><rect x="51.3" y="335.7" width="3.6" height="2.8" rx="0.8" fill="#9ca1a7"/><rect x="55.5" y="335.7" width="3.6" height="2.8" rx="0.8" fill="#989da3"/><rect x="59.7" y="335.7" width="3.6" height="2.8" rx="0.8" fill="#94999f"/><rect x="63.9" y="335.7" width="3.6" height="2.8" rx="0.8" fill="#9fa4aa"/><rect x="68.1" y="335.7" width="3.6" height="2.8" rx="0.8" fill="#91969c"/><rect x="72.3" y="335.7" width="3.6" height="2.8" rx="0.8" fill="#959aa0"/><rect x="15.6" y="339.1" width="3.6" height="2.8" rx="0.8" fill="#999ea4"/><rect x="19.8" y="339.1" width="3.6" height="2.8" rx="0.8" fill="#959aa0"/><rect x="24.0" y="339.1" width="3.6" height="2.8" rx="0.8" fill="#92979d"/><rect x="28.2" y="339.1" width="3.6" height="2.8" rx="0.8" fill="#90959b"/><rect x="32.4" y="339.1" width="3.6" height="2.8" rx="0.8" fill="#8e9399"/><rect x="36.6" y="339.1" width="3.6" height="2.8" rx="0.8" fill="#a0a5ab"/><rect x="40.8" y="339.1" width="3.6" height="2.8" rx="0.8" fill="#8c9197"/><rect x="45.0" y="339.1" width="3.6" height="2.8" rx="0.8" fill="#9da2a8"/><rect x="49.2" y="339.1" width="3.6" height="2.8" rx="0.8" fill="#9fa4aa"/><rect x="53.4" y="339.1" width="3.6" height="2.8" rx="0.8" fill="#8e9399"/><rect x="57.6" y="339.1" width="3.6" height="2.8" rx="0.8" fill="#898e94"/><rect x="61.8" y="339.1" width="3.6" height="2.8" rx="0.8" fill="#999ea4"/><rect x="66.0" y="339.1" width="3.6" height="2.8" rx="0.8" fill="#90959b"/><rect x="70.2" y="339.1" width="3.6" height="2.8" rx="0.8" fill="#979ca2"/><rect x="74.4" y="339.1" width="3.6" height="2.8" rx="0.8" fill="#969ba1"/><rect x="17.7" y="342.5" width="3.6" height="2.8" rx="0.8" fill="#91969c"/><rect x="21.9" y="342.5" width="3.6" height="2.8" rx="0.8" fill="#9ea3a9"/><rect x="26.1" y="342.5" width="3.6" height="2.8" rx="0.8" fill="#959aa0"/><rect x="30.3" y="342.5" width="3.6" height="2.8" rx="0.8" fill="#90959b"/><rect x="34.5" y="342.5" width="3.6" height="2.8" rx="0.8" fill="#9a9fa5"/><rect x="38.7" y="342.5" width="3.6" height="2.8" rx="0.8" fill="#898e94"/><rect x="42.9" y="342.5" width="3.6" height="2.8" rx="0.8" fill="#8a8f95"/><rect x="47.1" y="342.5" width="3.6" height="2.8" rx="0.8" fill="#979ca2"/><rect x="51.3" y="342.5" width="3.6" height="2.8" rx="0.8" fill="#94999f"/><rect x="55.5" y="342.5" width="3.6" height="2.8" rx="0.8" fill="#8c9197"/><rect x="59.7" y="342.5" width="3.6" height="2.8" rx="0.8" fill="#9fa4aa"/><rect x="63.9" y="342.5" width="3.6" height="2.8" rx="0.8" fill="#91969c"/><rect x="68.1" y="342.5" width="3.6" height="2.8" rx="0.8" fill="#8b9096"/><rect x="72.3" y="342.5" width="3.6" height="2.8" rx="0.8" fill="#969ba1"/><rect x="15.6" y="345.9" width="3.6" height="2.8" rx="0.8" fill="#94999f"/><rect x="19.8" y="345.9" width="3.6" height="2.8" rx="0.8" fill="#888d93"/><rect x="24.0" y="345.9" width="3.6" height="2.8" rx="0.8" fill="#9ca1a7"/><rect x="28.2" y="345.9" width="3.6" height="2.8" rx="0.8" fill="#898e94"/><rect x="32.4" y="345.9" width="3.6" height="2.8" rx="0.8" fill="#9fa4aa"/><rect x="36.6" y="345.9" width="3.6" height="2.8" rx="0.8" fill="#989da3"/><rect x="40.8" y="345.9" width="3.6" height="2.8" rx="0.8" fill="#999ea4"/><rect x="45.0" y="345.9" width="3.6" height="2.8" rx="0.8" fill="#a0a5ab"/><rect x="49.2" y="345.9" width="3.6" height="2.8" rx="0.8" fill="#a1a6ac"/><rect x="53.4" y="345.9" width="3.6" height="2.8" rx="0.8" fill="#91969c"/><rect x="57.6" y="345.9" width="3.6" height="2.8" rx="0.8" fill="#91969c"/><rect x="61.8" y="345.9" width="3.6" height="2.8" rx="0.8" fill="#9da2a8"/><rect x="66.0" y="345.9" width="3.6" height="2.8" rx="0.8" fill="#92979d"/><rect x="70.2" y="345.9" width="3.6" height="2.8" rx="0.8" fill="#9a9fa5"/><rect x="74.4" y="345.9" width="3.6" height="2.8" rx="0.8" fill="#969ba1"/><rect x="17.7" y="349.3" width="3.6" height="2.8" rx="0.8" fill="#999ea4"/><rect x="21.9" y="349.3" width="3.6" height="2.8" rx="0.8" fill="#a0a5ab"/><rect x="26.1" y="349.3" width="3.6" height="2.8" rx="0.8" fill="#959aa0"/><rect x="30.3" y="349.3" width="3.6" height="2.8" rx="0.8" fill="#898e94"/><rect x="34.5" y="349.3" width="3.6" height="2.8" rx="0.8" fill="#a1a6ac"/><rect x="38.7" y="349.3" width="3.6" height="2.8" rx="0.8" fill="#898e94"/><rect x="42.9" y="349.3" width="3.6" height="2.8" rx="0.8" fill="#8f949a"/><rect x="47.1" y="349.3" width="3.6" height="2.8" rx="0.8" fill="#969ba1"/><rect x="51.3" y="349.3" width="3.6" height="2.8" rx="0.8" fill="#9da2a8"/><rect x="55.5" y="349.3" width="3.6" height="2.8" rx="0.8" fill="#9ca1a7"/><rect x="59.7" y="349.3" width="3.6" height="2.8" rx="0.8" fill="#898e94"/><rect x="63.9" y="349.3" width="3.6" height="2.8" rx="0.8" fill="#888d93"/><rect x="68.1" y="349.3" width="3.6" height="2.8" rx="0.8" fill="#9ea3a9"/><rect x="72.3" y="349.3" width="3.6" height="2.8" rx="0.8" fill="#9da2a8"/><rect x="15.6" y="352.7" width="3.6" height="2.8" rx="0.8" fill="#90959b"/><rect x="19.8" y="352.7" width="3.6" height="2.8" rx="0.8" fill="#9ba0a6"/><rect x="24.0" y="352.7" width="3.6" height="2.8" rx="0.8" fill="#999ea4"/><rect x="28.2" y="352.7" width="3.6" height="2.8" rx="0.8" fill="#9ca1a7"/><rect x="32.4" y="352.7" width="3.6" height="2.8" rx="0.8" fill="#a1a6ac"/><rect x="36.6" y="352.7" width="3.6" height="2.8" rx="0.8" fill="#959aa0"/><rect x="40.8" y="352.7" width="3.6" height="2.8" rx="0.8" fill="#90959b"/><rect x="45.0" y="352.7" width="3.6" height="2.8" rx="0.8" fill="#9da2a8"/><rect x="49.2" y="352.7" width="3.6" height="2.8" rx="0.8" fill="#93989e"/><rect x="53.4" y="352.7" width="3.6" height="2.8" rx="0.8" fill="#9ca1a7"/><rect x="57.6" y="352.7" width="3.6" height="2.8" rx="0.8" fill="#92979d"/><rect x="61.8" y="352.7" width="3.6" height="2.8" rx="0.8" fill="#878c92"/><rect x="66.0" y="352.7" width="3.6" height="2.8" rx="0.8" fill="#959aa0"/><rect x="70.2" y="352.7" width="3.6" height="2.8" rx="0.8" fill="#92979d"/><rect x="74.4" y="352.7" width="3.6" height="2.8" rx="0.8" fill="#8c9197"/><rect x="17.7" y="356.1" width="3.6" height="2.8" rx="0.8" fill="#9a9fa5"/><rect x="21.9" y="356.1" width="3.6" height="2.8" rx="0.8" fill="#8a8f95"/><rect x="26.1" y="356.1" width="3.6" height="2.8" rx="0.8" fill="#969ba1"/><rect x="30.3" y="356.1" width="3.6" height="2.8" rx="0.8" fill="#888d93"/><rect x="34.5" y="356.1" width="3.6" height="2.8" rx="0.8" fill="#8d9298"/><rect x="38.7" y="356.1" width="3.6" height="2.8" rx="0.8" fill="#9fa4aa"/><rect x="42.9" y="356.1" width="3.6" height="2.8" rx="0.8" fill="#90959b"/><rect x="47.1" y="356.1" width="3.6" height="2.8" rx="0.8" fill="#8b9096"/><rect x="51.3" y="356.1" width="3.6" height="2.8" rx="0.8" fill="#9ea3a9"/><rect x="55.5" y="356.1" width="3.6" height="2.8" rx="0.8" fill="#8e9399"/><rect x="59.7" y="356.1" width="3.6" height="2.8" rx="0.8" fill="#93989e"/><rect x="63.9" y="356.1" width="3.6" height="2.8" rx="0.8" fill="#93989e"/><rect x="68.1" y="356.1" width="3.6" height="2.8" rx="0.8" fill="#969ba1"/><rect x="72.3" y="356.1" width="3.6" height="2.8" rx="0.8" fill="#898e94"/><rect x="15.6" y="359.5" width="3.6" height="2.8" rx="0.8" fill="#8c9197"/><rect x="19.8" y="359.5" width="3.6" height="2.8" rx="0.8" fill="#959aa0"/><rect x="24.0" y="359.5" width="3.6" height="2.8" rx="0.8" fill="#93989e"/><rect x="28.2" y="359.5" width="3.6" height="2.8" rx="0.8" fill="#989da3"/><rect x="32.4" y="359.5" width="3.6" height="2.8" rx="0.8" fill="#8f949a"/><rect x="36.6" y="359.5" width="3.6" height="2.8" rx="0.8" fill="#8b9096"/><rect x="40.8" y="359.5" width="3.6" height="2.8" rx="0.8" fill="#a1a6ac"/><rect x="45.0" y="359.5" width="3.6" height="2.8" rx="0.8" fill="#94999f"/><rect x="49.2" y="359.5" width="3.6" height="2.8" rx="0.8" fill="#989da3"/><rect x="53.4" y="359.5" width="3.6" height="2.8" rx="0.8" fill="#8f949a"/><rect x="57.6" y="359.5" width="3.6" height="2.8" rx="0.8" fill="#9da2a8"/><rect x="61.8" y="359.5" width="3.6" height="2.8" rx="0.8" fill="#94999f"/><rect x="66.0" y="359.5" width="3.6" height="2.8" rx="0.8" fill="#92979d"/><rect x="70.2" y="359.5" width="3.6" height="2.8" rx="0.8" fill="#9ca1a7"/><rect x="74.4" y="359.5" width="3.6" height="2.8" rx="0.8" fill="#93989e"/><rect x="17.7" y="362.9" width="3.6" height="2.8" rx="0.8" fill="#8e9399"/><rect x="21.9" y="362.9" width="3.6" height="2.8" rx="0.8" fill="#8b9096"/><rect x="26.1" y="362.9" width="3.6" height="2.8" rx="0.8" fill="#898e94"/><rect x="30.3" y="362.9" width="3.6" height="2.8" rx="0.8" fill="#8c9197"/><rect x="34.5" y="362.9" width="3.6" height="2.8" rx="0.8" fill="#8b9096"/><rect x="38.7" y="362.9" width="3.6" height="2.8" rx="0.8" fill="#8e9399"/><rect x="42.9" y="362.9" width="3.6" height="2.8" rx="0.8" fill="#9ca1a7"/><rect x="47.1" y="362.9" width="3.6" height="2.8" rx="0.8" fill="#8e9399"/><rect x="51.3" y="362.9" width="3.6" height="2.8" rx="0.8" fill="#878c92"/><rect x="55.5" y="362.9" width="3.6" height="2.8" rx="0.8" fill="#969ba1"/><rect x="59.7" y="362.9" width="3.6" height="2.8" rx="0.8" fill="#a1a6ac"/><rect x="63.9" y="362.9" width="3.6" height="2.8" rx="0.8" fill="#999ea4"/><rect x="68.1" y="362.9" width="3.6" height="2.8" rx="0.8" fill="#8c9197"/><rect x="72.3" y="362.9" width="3.6" height="2.8" rx="0.8" fill="#8f949a"/></g>
<ellipse cx="29.5" cy="333.5" rx="3" ry="2.8" fill="#5e7a50" filter="url(#b05)"/>
<path d="M57.5,341 C58.5,338.8 62,338.6 64,340.5 C67,343 70,346 73,349 C75,351 75,356 74.6,361 C71,360 67,357 64,354 C61,351 58.5,346 57.5,341 Z" fill="#1e2330" filter="url(#b05)"/>
<path d="M22,364 L29,356 C30,351 33,348 37,348 C41,348 43.5,350.5 43,353.5 C42,356.5 38,358 34,359 L29,364 Z" fill="#d6a48c" filter="url(#b05)"/>
<circle cx="41.5" cy="350" r="2" fill="#f4f2ee" filter="url(#b05)"/>
</g>
<g clip-path="url(#cq2)">
<rect x="104.3" y="321.5" width="57" height="42" fill="url(#gpave)"/>
<g filter="url(#b05)"><rect x="104.6" y="328.3" width="3.6" height="2.8" rx="0.8" fill="#90959b"/><rect x="108.8" y="328.3" width="3.6" height="2.8" rx="0.8" fill="#878c92"/><rect x="113.0" y="328.3" width="3.6" height="2.8" rx="0.8" fill="#8b9096"/><rect x="117.2" y="328.3" width="3.6" height="2.8" rx="0.8" fill="#94999f"/><rect x="121.4" y="328.3" width="3.6" height="2.8" rx="0.8" fill="#989da3"/><rect x="125.6" y="328.3" width="3.6" height="2.8" rx="0.8" fill="#92979d"/><rect x="129.8" y="328.3" width="3.6" height="2.8" rx="0.8" fill="#9a9fa5"/><rect x="134.0" y="328.3" width="3.6" height="2.8" rx="0.8" fill="#999ea4"/><rect x="138.2" y="328.3" width="3.6" height="2.8" rx="0.8" fill="#91969c"/><rect x="142.4" y="328.3" width="3.6" height="2.8" rx="0.8" fill="#8b9096"/><rect x="146.6" y="328.3" width="3.6" height="2.8" rx="0.8" fill="#9da2a8"/><rect x="150.8" y="328.3" width="3.6" height="2.8" rx="0.8" fill="#979ca2"/><rect x="155.0" y="328.3" width="3.6" height="2.8" rx="0.8" fill="#9a9fa5"/><rect x="159.2" y="328.3" width="3.6" height="2.8" rx="0.8" fill="#9ba0a6"/><rect x="102.5" y="331.7" width="3.6" height="2.8" rx="0.8" fill="#9ca1a7"/><rect x="106.7" y="331.7" width="3.6" height="2.8" rx="0.8" fill="#9ea3a9"/><rect x="110.9" y="331.7" width="3.6" height="2.8" rx="0.8" fill="#888d93"/><rect x="115.1" y="331.7" width="3.6" height="2.8" rx="0.8" fill="#959aa0"/><rect x="119.3" y="331.7" width="3.6" height="2.8" rx="0.8" fill="#9fa4aa"/><rect x="123.5" y="331.7" width="3.6" height="2.8" rx="0.8" fill="#9ca1a7"/><rect x="127.7" y="331.7" width="3.6" height="2.8" rx="0.8" fill="#a0a5ab"/><rect x="131.9" y="331.7" width="3.6" height="2.8" rx="0.8" fill="#989da3"/><rect x="136.1" y="331.7" width="3.6" height="2.8" rx="0.8" fill="#93989e"/><rect x="140.3" y="331.7" width="3.6" height="2.8" rx="0.8" fill="#93989e"/><rect x="144.5" y="331.7" width="3.6" height="2.8" rx="0.8" fill="#93989e"/><rect x="148.7" y="331.7" width="3.6" height="2.8" rx="0.8" fill="#93989e"/><rect x="152.9" y="331.7" width="3.6" height="2.8" rx="0.8" fill="#8a8f95"/><rect x="157.1" y="331.7" width="3.6" height="2.8" rx="0.8" fill="#969ba1"/><rect x="161.3" y="331.7" width="3.6" height="2.8" rx="0.8" fill="#9ba0a6"/><rect x="104.6" y="335.1" width="3.6" height="2.8" rx="0.8" fill="#93989e"/><rect x="108.8" y="335.1" width="3.6" height="2.8" rx="0.8" fill="#888d93"/><rect x="113.0" y="335.1" width="3.6" height="2.8" rx="0.8" fill="#8d9298"/><rect x="117.2" y="335.1" width="3.6" height="2.8" rx="0.8" fill="#898e94"/><rect x="121.4" y="335.1" width="3.6" height="2.8" rx="0.8" fill="#8d9298"/><rect x="125.6" y="335.1" width="3.6" height="2.8" rx="0.8" fill="#959aa0"/><rect x="129.8" y="335.1" width="3.6" height="2.8" rx="0.8" fill="#8c9197"/><rect x="134.0" y="335.1" width="3.6" height="2.8" rx="0.8" fill="#8a8f95"/><rect x="138.2" y="335.1" width="3.6" height="2.8" rx="0.8" fill="#91969c"/><rect x="142.4" y="335.1" width="3.6" height="2.8" rx="0.8" fill="#9a9fa5"/><rect x="146.6" y="335.1" width="3.6" height="2.8" rx="0.8" fill="#888d93"/><rect x="150.8" y="335.1" width="3.6" height="2.8" rx="0.8" fill="#8a8f95"/><rect x="155.0" y="335.1" width="3.6" height="2.8" rx="0.8" fill="#878c92"/><rect x="159.2" y="335.1" width="3.6" height="2.8" rx="0.8" fill="#999ea4"/><rect x="102.5" y="338.5" width="3.6" height="2.8" rx="0.8" fill="#8b9096"/><rect x="106.7" y="338.5" width="3.6" height="2.8" rx="0.8" fill="#989da3"/><rect x="110.9" y="338.5" width="3.6" height="2.8" rx="0.8" fill="#8a8f95"/><rect x="115.1" y="338.5" width="3.6" height="2.8" rx="0.8" fill="#92979d"/><rect x="119.3" y="338.5" width="3.6" height="2.8" rx="0.8" fill="#9a9fa5"/><rect x="123.5" y="338.5" width="3.6" height="2.8" rx="0.8" fill="#878c92"/><rect x="127.7" y="338.5" width="3.6" height="2.8" rx="0.8" fill="#898e94"/><rect x="131.9" y="338.5" width="3.6" height="2.8" rx="0.8" fill="#8d9298"/><rect x="136.1" y="338.5" width="3.6" height="2.8" rx="0.8" fill="#9a9fa5"/><rect x="140.3" y="338.5" width="3.6" height="2.8" rx="0.8" fill="#93989e"/><rect x="144.5" y="338.5" width="3.6" height="2.8" rx="0.8" fill="#8b9096"/><rect x="148.7" y="338.5" width="3.6" height="2.8" rx="0.8" fill="#9ba0a6"/><rect x="152.9" y="338.5" width="3.6" height="2.8" rx="0.8" fill="#8f949a"/><rect x="157.1" y="338.5" width="3.6" height="2.8" rx="0.8" fill="#92979d"/><rect x="161.3" y="338.5" width="3.6" height="2.8" rx="0.8" fill="#9a9fa5"/><rect x="104.6" y="341.9" width="3.6" height="2.8" rx="0.8" fill="#92979d"/><rect x="108.8" y="341.9" width="3.6" height="2.8" rx="0.8" fill="#969ba1"/><rect x="113.0" y="341.9" width="3.6" height="2.8" rx="0.8" fill="#8a8f95"/><rect x="117.2" y="341.9" width="3.6" height="2.8" rx="0.8" fill="#8a8f95"/><rect x="121.4" y="341.9" width="3.6" height="2.8" rx="0.8" fill="#969ba1"/><rect x="125.6" y="341.9" width="3.6" height="2.8" rx="0.8" fill="#959aa0"/><rect x="129.8" y="341.9" width="3.6" height="2.8" rx="0.8" fill="#969ba1"/><rect x="134.0" y="341.9" width="3.6" height="2.8" rx="0.8" fill="#969ba1"/><rect x="138.2" y="341.9" width="3.6" height="2.8" rx="0.8" fill="#90959b"/><rect x="142.4" y="341.9" width="3.6" height="2.8" rx="0.8" fill="#898e94"/><rect x="146.6" y="341.9" width="3.6" height="2.8" rx="0.8" fill="#8b9096"/><rect x="150.8" y="341.9" width="3.6" height="2.8" rx="0.8" fill="#8a8f95"/><rect x="155.0" y="341.9" width="3.6" height="2.8" rx="0.8" fill="#9ea3a9"/><rect x="159.2" y="341.9" width="3.6" height="2.8" rx="0.8" fill="#91969c"/><rect x="102.5" y="345.3" width="3.6" height="2.8" rx="0.8" fill="#9ea3a9"/><rect x="106.7" y="345.3" width="3.6" height="2.8" rx="0.8" fill="#8f949a"/><rect x="110.9" y="345.3" width="3.6" height="2.8" rx="0.8" fill="#969ba1"/><rect x="115.1" y="345.3" width="3.6" height="2.8" rx="0.8" fill="#a1a6ac"/><rect x="119.3" y="345.3" width="3.6" height="2.8" rx="0.8" fill="#9da2a8"/><rect x="123.5" y="345.3" width="3.6" height="2.8" rx="0.8" fill="#8c9197"/><rect x="127.7" y="345.3" width="3.6" height="2.8" rx="0.8" fill="#979ca2"/><rect x="131.9" y="345.3" width="3.6" height="2.8" rx="0.8" fill="#878c92"/><rect x="136.1" y="345.3" width="3.6" height="2.8" rx="0.8" fill="#8d9298"/><rect x="140.3" y="345.3" width="3.6" height="2.8" rx="0.8" fill="#979ca2"/><rect x="144.5" y="345.3" width="3.6" height="2.8" rx="0.8" fill="#92979d"/><rect x="148.7" y="345.3" width="3.6" height="2.8" rx="0.8" fill="#8b9096"/><rect x="152.9" y="345.3" width="3.6" height="2.8" rx="0.8" fill="#9da2a8"/><rect x="157.1" y="345.3" width="3.6" height="2.8" rx="0.8" fill="#989da3"/><rect x="161.3" y="345.3" width="3.6" height="2.8" rx="0.8" fill="#878c92"/><rect x="104.6" y="348.7" width="3.6" height="2.8" rx="0.8" fill="#9fa4aa"/><rect x="108.8" y="348.7" width="3.6" height="2.8" rx="0.8" fill="#979ca2"/><rect x="113.0" y="348.7" width="3.6" height="2.8" rx="0.8" fill="#90959b"/><rect x="117.2" y="348.7" width="3.6" height="2.8" rx="0.8" fill="#9ba0a6"/><rect x="121.4" y="348.7" width="3.6" height="2.8" rx="0.8" fill="#898e94"/><rect x="125.6" y="348.7" width="3.6" height="2.8" rx="0.8" fill="#9da2a8"/><rect x="129.8" y="348.7" width="3.6" height="2.8" rx="0.8" fill="#8f949a"/><rect x="134.0" y="348.7" width="3.6" height="2.8" rx="0.8" fill="#979ca2"/><rect x="138.2" y="348.7" width="3.6" height="2.8" rx="0.8" fill="#92979d"/><rect x="142.4" y="348.7" width="3.6" height="2.8" rx="0.8" fill="#8c9197"/><rect x="146.6" y="348.7" width="3.6" height="2.8" rx="0.8" fill="#92979d"/><rect x="150.8" y="348.7" width="3.6" height="2.8" rx="0.8" fill="#9fa4aa"/><rect x="155.0" y="348.7" width="3.6" height="2.8" rx="0.8" fill="#8e9399"/><rect x="159.2" y="348.7" width="3.6" height="2.8" rx="0.8" fill="#989da3"/><rect x="102.5" y="352.1" width="3.6" height="2.8" rx="0.8" fill="#989da3"/><rect x="106.7" y="352.1" width="3.6" height="2.8" rx="0.8" fill="#9fa4aa"/><rect x="110.9" y="352.1" width="3.6" height="2.8" rx="0.8" fill="#979ca2"/><rect x="115.1" y="352.1" width="3.6" height="2.8" rx="0.8" fill="#91969c"/><rect x="119.3" y="352.1" width="3.6" height="2.8" rx="0.8" fill="#9ba0a6"/><rect x="123.5" y="352.1" width="3.6" height="2.8" rx="0.8" fill="#8e9399"/><rect x="127.7" y="352.1" width="3.6" height="2.8" rx="0.8" fill="#9a9fa5"/><rect x="131.9" y="352.1" width="3.6" height="2.8" rx="0.8" fill="#a0a5ab"/><rect x="136.1" y="352.1" width="3.6" height="2.8" rx="0.8" fill="#a0a5ab"/><rect x="140.3" y="352.1" width="3.6" height="2.8" rx="0.8" fill="#9fa4aa"/><rect x="144.5" y="352.1" width="3.6" height="2.8" rx="0.8" fill="#8d9298"/><rect x="148.7" y="352.1" width="3.6" height="2.8" rx="0.8" fill="#a0a5ab"/><rect x="152.9" y="352.1" width="3.6" height="2.8" rx="0.8" fill="#8e9399"/><rect x="157.1" y="352.1" width="3.6" height="2.8" rx="0.8" fill="#a1a6ac"/><rect x="161.3" y="352.1" width="3.6" height="2.8" rx="0.8" fill="#93989e"/><rect x="104.6" y="355.5" width="3.6" height="2.8" rx="0.8" fill="#9ea3a9"/><rect x="108.8" y="355.5" width="3.6" height="2.8" rx="0.8" fill="#a0a5ab"/><rect x="113.0" y="355.5" width="3.6" height="2.8" rx="0.8" fill="#8e9399"/><rect x="117.2" y="355.5" width="3.6" height="2.8" rx="0.8" fill="#8d9298"/><rect x="121.4" y="355.5" width="3.6" height="2.8" rx="0.8" fill="#979ca2"/><rect x="125.6" y="355.5" width="3.6" height="2.8" rx="0.8" fill="#969ba1"/><rect x="129.8" y="355.5" width="3.6" height="2.8" rx="0.8" fill="#92979d"/><rect x="134.0" y="355.5" width="3.6" height="2.8" rx="0.8" fill="#9ea3a9"/><rect x="138.2" y="355.5" width="3.6" height="2.8" rx="0.8" fill="#878c92"/><rect x="142.4" y="355.5" width="3.6" height="2.8" rx="0.8" fill="#878c92"/><rect x="146.6" y="355.5" width="3.6" height="2.8" rx="0.8" fill="#a0a5ab"/><rect x="150.8" y="355.5" width="3.6" height="2.8" rx="0.8" fill="#8f949a"/><rect x="155.0" y="355.5" width="3.6" height="2.8" rx="0.8" fill="#969ba1"/><rect x="159.2" y="355.5" width="3.6" height="2.8" rx="0.8" fill="#8f949a"/><rect x="102.5" y="358.9" width="3.6" height="2.8" rx="0.8" fill="#8d9298"/><rect x="106.7" y="358.9" width="3.6" height="2.8" rx="0.8" fill="#9da2a8"/><rect x="110.9" y="358.9" width="3.6" height="2.8" rx="0.8" fill="#9a9fa5"/><rect x="115.1" y="358.9" width="3.6" height="2.8" rx="0.8" fill="#92979d"/><rect x="119.3" y="358.9" width="3.6" height="2.8" rx="0.8" fill="#959aa0"/><rect x="123.5" y="358.9" width="3.6" height="2.8" rx="0.8" fill="#a0a5ab"/><rect x="127.7" y="358.9" width="3.6" height="2.8" rx="0.8" fill="#9ea3a9"/><rect x="131.9" y="358.9" width="3.6" height="2.8" rx="0.8" fill="#92979d"/><rect x="136.1" y="358.9" width="3.6" height="2.8" rx="0.8" fill="#92979d"/><rect x="140.3" y="358.9" width="3.6" height="2.8" rx="0.8" fill="#898e94"/><rect x="144.5" y="358.9" width="3.6" height="2.8" rx="0.8" fill="#8e9399"/><rect x="148.7" y="358.9" width="3.6" height="2.8" rx="0.8" fill="#8a8f95"/><rect x="152.9" y="358.9" width="3.6" height="2.8" rx="0.8" fill="#8e9399"/><rect x="157.1" y="358.9" width="3.6" height="2.8" rx="0.8" fill="#969ba1"/><rect x="161.3" y="358.9" width="3.6" height="2.8" rx="0.8" fill="#8d9298"/><rect x="104.6" y="362.3" width="3.6" height="2.8" rx="0.8" fill="#91969c"/><rect x="108.8" y="362.3" width="3.6" height="2.8" rx="0.8" fill="#8d9298"/><rect x="113.0" y="362.3" width="3.6" height="2.8" rx="0.8" fill="#969ba1"/><rect x="117.2" y="362.3" width="3.6" height="2.8" rx="0.8" fill="#9a9fa5"/><rect x="121.4" y="362.3" width="3.6" height="2.8" rx="0.8" fill="#9a9fa5"/><rect x="125.6" y="362.3" width="3.6" height="2.8" rx="0.8" fill="#a1a6ac"/><rect x="129.8" y="362.3" width="3.6" height="2.8" rx="0.8" fill="#878c92"/><rect x="134.0" y="362.3" width="3.6" height="2.8" rx="0.8" fill="#969ba1"/><rect x="138.2" y="362.3" width="3.6" height="2.8" rx="0.8" fill="#9ba0a6"/><rect x="142.4" y="362.3" width="3.6" height="2.8" rx="0.8" fill="#92979d"/><rect x="146.6" y="362.3" width="3.6" height="2.8" rx="0.8" fill="#a0a5ab"/><rect x="150.8" y="362.3" width="3.6" height="2.8" rx="0.8" fill="#9ba0a6"/><rect x="155.0" y="362.3" width="3.6" height="2.8" rx="0.8" fill="#898e94"/><rect x="159.2" y="362.3" width="3.6" height="2.8" rx="0.8" fill="#a1a6ac"/></g>
<path d="M126,321.5 L161.3,321.5 L161.3,331 C150,332 138,332 128,331 Z" fill="#96b470" filter="url(#b05)"/>
<path d="M150,326 C155,324 161.3,326 161.3,328 L161.3,346 C157,346 152,342 150,336 Z" fill="#6e8a58" opacity="0.8" filter="url(#b07)"/>
<rect x="107" y="321.5" width="9" height="15" fill="#5c646c" filter="url(#b05)"/>
<rect x="112" y="332" width="6" height="5" fill="#6a4030" filter="url(#b05)"/>
<path d="M117,323 L131,323 L130,328 L118,328 Z" fill="#eceeee" filter="url(#b05)"/>
<rect x="120" y="328" width="1.3" height="6" fill="#e4e4e4"/>
<rect x="104.3" y="321.5" width="3" height="13" fill="#e0e0e0"/>
<path d="M104.3,337 L110,336 L113,339 L109,343 L111.5,356 L109.5,357 L106.5,345 L104.3,345 Z" fill="#f2f2f2" filter="url(#b05)"/>
<path d="M133,343.5 C136,339.5 145,339 151.5,340.5 C155,343 154.5,347.5 149,349.5 C141,350.8 136,350 133,347 Z" fill="#76502e" filter="url(#b07)"/>
<path d="M141,340.5 C146,339.5 152,341.5 152.5,345 L146,348.5 Z" fill="#3e2a1c" filter="url(#b07)"/>
<path d="M133,343 C135,341 138,341 139,344 L137,348 L133.5,347 Z" fill="#4a3220" filter="url(#b05)"/>
<path d="M129,341.5 L132.5,341 L133,349.5 L129.5,349.5 Z" fill="#1c1c24" filter="url(#b05)"/>
</g>
<g clip-path="url(#cq3)">
<rect x="183" y="321.5" width="57" height="42.4" fill="#878c94"/>
<g filter="url(#b05)"><rect x="183.3" y="340.3" width="3.6" height="2.8" rx="0.8" fill="#8d9199"/><rect x="187.5" y="340.3" width="3.6" height="2.8" rx="0.8" fill="#969aa2"/><rect x="191.7" y="340.3" width="3.6" height="2.8" rx="0.8" fill="#888c94"/><rect x="195.9" y="340.3" width="3.6" height="2.8" rx="0.8" fill="#8c9098"/><rect x="200.1" y="340.3" width="3.6" height="2.8" rx="0.8" fill="#858991"/><rect x="204.3" y="340.3" width="3.6" height="2.8" rx="0.8" fill="#92969e"/><rect x="208.5" y="340.3" width="3.6" height="2.8" rx="0.8" fill="#82868e"/><rect x="212.7" y="340.3" width="3.6" height="2.8" rx="0.8" fill="#83878f"/><rect x="216.9" y="340.3" width="3.6" height="2.8" rx="0.8" fill="#868a92"/><rect x="221.1" y="340.3" width="3.6" height="2.8" rx="0.8" fill="#82868e"/><rect x="225.3" y="340.3" width="3.6" height="2.8" rx="0.8" fill="#969aa2"/><rect x="229.5" y="340.3" width="3.6" height="2.8" rx="0.8" fill="#92969e"/><rect x="233.7" y="340.3" width="3.6" height="2.8" rx="0.8" fill="#93979f"/><rect x="237.9" y="340.3" width="3.6" height="2.8" rx="0.8" fill="#90949c"/><rect x="181.2" y="343.7" width="3.6" height="2.8" rx="0.8" fill="#80848c"/><rect x="185.4" y="343.7" width="3.6" height="2.8" rx="0.8" fill="#888c94"/><rect x="189.6" y="343.7" width="3.6" height="2.8" rx="0.8" fill="#878b93"/><rect x="193.8" y="343.7" width="3.6" height="2.8" rx="0.8" fill="#7d8189"/><rect x="198.0" y="343.7" width="3.6" height="2.8" rx="0.8" fill="#969aa2"/><rect x="202.2" y="343.7" width="3.6" height="2.8" rx="0.8" fill="#80848c"/><rect x="206.4" y="343.7" width="3.6" height="2.8" rx="0.8" fill="#7c8088"/><rect x="210.6" y="343.7" width="3.6" height="2.8" rx="0.8" fill="#7e828a"/><rect x="214.8" y="343.7" width="3.6" height="2.8" rx="0.8" fill="#90949c"/><rect x="219.0" y="343.7" width="3.6" height="2.8" rx="0.8" fill="#93979f"/><rect x="223.2" y="343.7" width="3.6" height="2.8" rx="0.8" fill="#848890"/><rect x="227.4" y="343.7" width="3.6" height="2.8" rx="0.8" fill="#898d95"/><rect x="231.6" y="343.7" width="3.6" height="2.8" rx="0.8" fill="#81858d"/><rect x="235.8" y="343.7" width="3.6" height="2.8" rx="0.8" fill="#7d8189"/><rect x="240.0" y="343.7" width="3.6" height="2.8" rx="0.8" fill="#7e828a"/><rect x="183.3" y="347.1" width="3.6" height="2.8" rx="0.8" fill="#91959d"/><rect x="187.5" y="347.1" width="3.6" height="2.8" rx="0.8" fill="#969aa2"/><rect x="191.7" y="347.1" width="3.6" height="2.8" rx="0.8" fill="#888c94"/><rect x="195.9" y="347.1" width="3.6" height="2.8" rx="0.8" fill="#8c9098"/><rect x="200.1" y="347.1" width="3.6" height="2.8" rx="0.8" fill="#91959d"/><rect x="204.3" y="347.1" width="3.6" height="2.8" rx="0.8" fill="#858991"/><rect x="208.5" y="347.1" width="3.6" height="2.8" rx="0.8" fill="#8f939b"/><rect x="212.7" y="347.1" width="3.6" height="2.8" rx="0.8" fill="#83878f"/><rect x="216.9" y="347.1" width="3.6" height="2.8" rx="0.8" fill="#92969e"/><rect x="221.1" y="347.1" width="3.6" height="2.8" rx="0.8" fill="#858991"/><rect x="225.3" y="347.1" width="3.6" height="2.8" rx="0.8" fill="#7d8189"/><rect x="229.5" y="347.1" width="3.6" height="2.8" rx="0.8" fill="#8a8e96"/><rect x="233.7" y="347.1" width="3.6" height="2.8" rx="0.8" fill="#81858d"/><rect x="237.9" y="347.1" width="3.6" height="2.8" rx="0.8" fill="#81858d"/><rect x="181.2" y="350.5" width="3.6" height="2.8" rx="0.8" fill="#848890"/><rect x="185.4" y="350.5" width="3.6" height="2.8" rx="0.8" fill="#8a8e96"/><rect x="189.6" y="350.5" width="3.6" height="2.8" rx="0.8" fill="#7c8088"/><rect x="193.8" y="350.5" width="3.6" height="2.8" rx="0.8" fill="#848890"/><rect x="198.0" y="350.5" width="3.6" height="2.8" rx="0.8" fill="#878b93"/><rect x="202.2" y="350.5" width="3.6" height="2.8" rx="0.8" fill="#868a92"/><rect x="206.4" y="350.5" width="3.6" height="2.8" rx="0.8" fill="#8d9199"/><rect x="210.6" y="350.5" width="3.6" height="2.8" rx="0.8" fill="#868a92"/><rect x="214.8" y="350.5" width="3.6" height="2.8" rx="0.8" fill="#83878f"/><rect x="219.0" y="350.5" width="3.6" height="2.8" rx="0.8" fill="#7d8189"/><rect x="223.2" y="350.5" width="3.6" height="2.8" rx="0.8" fill="#858991"/><rect x="227.4" y="350.5" width="3.6" height="2.8" rx="0.8" fill="#82868e"/><rect x="231.6" y="350.5" width="3.6" height="2.8" rx="0.8" fill="#878b93"/><rect x="235.8" y="350.5" width="3.6" height="2.8" rx="0.8" fill="#81858d"/><rect x="240.0" y="350.5" width="3.6" height="2.8" rx="0.8" fill="#7c8088"/><rect x="183.3" y="353.9" width="3.6" height="2.8" rx="0.8" fill="#868a92"/><rect x="187.5" y="353.9" width="3.6" height="2.8" rx="0.8" fill="#888c94"/><rect x="191.7" y="353.9" width="3.6" height="2.8" rx="0.8" fill="#7e828a"/><rect x="195.9" y="353.9" width="3.6" height="2.8" rx="0.8" fill="#8b8f97"/><rect x="200.1" y="353.9" width="3.6" height="2.8" rx="0.8" fill="#848890"/><rect x="204.3" y="353.9" width="3.6" height="2.8" rx="0.8" fill="#8c9098"/><rect x="208.5" y="353.9" width="3.6" height="2.8" rx="0.8" fill="#90949c"/><rect x="212.7" y="353.9" width="3.6" height="2.8" rx="0.8" fill="#82868e"/><rect x="216.9" y="353.9" width="3.6" height="2.8" rx="0.8" fill="#83878f"/><rect x="221.1" y="353.9" width="3.6" height="2.8" rx="0.8" fill="#8c9098"/><rect x="225.3" y="353.9" width="3.6" height="2.8" rx="0.8" fill="#9498a0"/><rect x="229.5" y="353.9" width="3.6" height="2.8" rx="0.8" fill="#7c8088"/><rect x="233.7" y="353.9" width="3.6" height="2.8" rx="0.8" fill="#7e828a"/><rect x="237.9" y="353.9" width="3.6" height="2.8" rx="0.8" fill="#848890"/><rect x="181.2" y="357.3" width="3.6" height="2.8" rx="0.8" fill="#969aa2"/><rect x="185.4" y="357.3" width="3.6" height="2.8" rx="0.8" fill="#7e828a"/><rect x="189.6" y="357.3" width="3.6" height="2.8" rx="0.8" fill="#80848c"/><rect x="193.8" y="357.3" width="3.6" height="2.8" rx="0.8" fill="#888c94"/><rect x="198.0" y="357.3" width="3.6" height="2.8" rx="0.8" fill="#8e929a"/><rect x="202.2" y="357.3" width="3.6" height="2.8" rx="0.8" fill="#7d8189"/><rect x="206.4" y="357.3" width="3.6" height="2.8" rx="0.8" fill="#888c94"/><rect x="210.6" y="357.3" width="3.6" height="2.8" rx="0.8" fill="#7c8088"/><rect x="214.8" y="357.3" width="3.6" height="2.8" rx="0.8" fill="#858991"/><rect x="219.0" y="357.3" width="3.6" height="2.8" rx="0.8" fill="#858991"/><rect x="223.2" y="357.3" width="3.6" height="2.8" rx="0.8" fill="#90949c"/><rect x="227.4" y="357.3" width="3.6" height="2.8" rx="0.8" fill="#83878f"/><rect x="231.6" y="357.3" width="3.6" height="2.8" rx="0.8" fill="#7e828a"/><rect x="235.8" y="357.3" width="3.6" height="2.8" rx="0.8" fill="#8e929a"/><rect x="240.0" y="357.3" width="3.6" height="2.8" rx="0.8" fill="#8c9098"/><rect x="183.3" y="360.7" width="3.6" height="2.8" rx="0.8" fill="#9498a0"/><rect x="187.5" y="360.7" width="3.6" height="2.8" rx="0.8" fill="#80848c"/><rect x="191.7" y="360.7" width="3.6" height="2.8" rx="0.8" fill="#91959d"/><rect x="195.9" y="360.7" width="3.6" height="2.8" rx="0.8" fill="#92969e"/><rect x="200.1" y="360.7" width="3.6" height="2.8" rx="0.8" fill="#9599a1"/><rect x="204.3" y="360.7" width="3.6" height="2.8" rx="0.8" fill="#8f939b"/><rect x="208.5" y="360.7" width="3.6" height="2.8" rx="0.8" fill="#888c94"/><rect x="212.7" y="360.7" width="3.6" height="2.8" rx="0.8" fill="#9498a0"/><rect x="216.9" y="360.7" width="3.6" height="2.8" rx="0.8" fill="#868a92"/><rect x="221.1" y="360.7" width="3.6" height="2.8" rx="0.8" fill="#93979f"/><rect x="225.3" y="360.7" width="3.6" height="2.8" rx="0.8" fill="#8b8f97"/><rect x="229.5" y="360.7" width="3.6" height="2.8" rx="0.8" fill="#80848c"/><rect x="233.7" y="360.7" width="3.6" height="2.8" rx="0.8" fill="#858991"/><rect x="237.9" y="360.7" width="3.6" height="2.8" rx="0.8" fill="#93979f"/><rect x="181.2" y="364.1" width="3.6" height="2.8" rx="0.8" fill="#8f939b"/><rect x="185.4" y="364.1" width="3.6" height="2.8" rx="0.8" fill="#90949c"/><rect x="189.6" y="364.1" width="3.6" height="2.8" rx="0.8" fill="#80848c"/><rect x="193.8" y="364.1" width="3.6" height="2.8" rx="0.8" fill="#7d8189"/><rect x="198.0" y="364.1" width="3.6" height="2.8" rx="0.8" fill="#969aa2"/><rect x="202.2" y="364.1" width="3.6" height="2.8" rx="0.8" fill="#969aa2"/><rect x="206.4" y="364.1" width="3.6" height="2.8" rx="0.8" fill="#92969e"/><rect x="210.6" y="364.1" width="3.6" height="2.8" rx="0.8" fill="#8c9098"/><rect x="214.8" y="364.1" width="3.6" height="2.8" rx="0.8" fill="#90949c"/><rect x="219.0" y="364.1" width="3.6" height="2.8" rx="0.8" fill="#898d95"/><rect x="223.2" y="364.1" width="3.6" height="2.8" rx="0.8" fill="#93979f"/><rect x="227.4" y="364.1" width="3.6" height="2.8" rx="0.8" fill="#92969e"/><rect x="231.6" y="364.1" width="3.6" height="2.8" rx="0.8" fill="#9599a1"/><rect x="235.8" y="364.1" width="3.6" height="2.8" rx="0.8" fill="#8c9098"/><rect x="240.0" y="364.1" width="3.6" height="2.8" rx="0.8" fill="#80848c"/></g>
<rect x="183" y="321.5" width="57" height="21.5" fill="#dadddf"/>
<path d="M183,321.5 L198,321.5 L198,325 L183,329 Z" fill="#4e6a3e" filter="url(#b05)"/>
<path d="M184,330 L215,322.5 L216,324 L185,331.5 Z" fill="#8e9494" filter="url(#b05)"/>
<rect x="186" y="331" width="19" height="11" fill="#c4c8cc" filter="url(#b05)"/>
<rect x="188" y="332" width="5" height="9" fill="#eef0f0"/>
<rect x="196" y="332" width="6" height="9" fill="#eef0f0"/>
<path d="M203,342 C203,335 210,330 216,331 C221,333 223,338 222,343 Z" fill="#5a8846" filter="url(#b07)"/>
<rect x="237.8" y="321.5" width="1.8" height="20" fill="#3a3a3a"/>
<path d="M183,341 C188,339 195,340 199,343 C201,348 200,355 196,358 C190,360 185,359 183,356 Z" fill="#9a6232" filter="url(#b05)"/>
<path d="M183,345 C186,343 189,345 190,349 C190,353 187,356 183,356 Z" fill="#4a2c18" filter="url(#b05)"/>
<path d="M196,340 L199,335.5 L202,340 L206,339 L209,342 C212,345 213,350 210,354 C207,357 203,357 200,355 C197,351 195,345 196,340 Z" fill="#6a4020" filter="url(#b05)"/>
<path d="M202,344 C205,343 209,345 210,350 C209,354 206,356 203,355 Z" fill="#2a1c12" filter="url(#b05)"/>
<path d="M192,352 C196,354 200,358 204,360 L197,362 C194,359 191,356 192,352 Z" fill="#b07a48" filter="url(#b05)"/>
<circle cx="205.5" cy="358" r="1.6" fill="#f0f0ea"/>
<path d="M219,352 C222,349 228,347.5 233,348.5 C236,349 238,350 237.5,351 C234,353 230,356 224,357 C221,356.5 219.5,354.5 219,352 Z" fill="#16161a" filter="url(#b05)"/>
</g>
<g clip-path="url(#cq4)">
<rect x="280" y="321.6" width="56.6" height="42" fill="url(#gpave)"/>
<g filter="url(#b05)"><rect x="280.3" y="326.3" width="3.6" height="2.8" rx="0.8" fill="#9ca1a7"/><rect x="284.5" y="326.3" width="3.6" height="2.8" rx="0.8" fill="#8a8f95"/><rect x="288.7" y="326.3" width="3.6" height="2.8" rx="0.8" fill="#93989e"/><rect x="292.9" y="326.3" width="3.6" height="2.8" rx="0.8" fill="#a0a5ab"/><rect x="297.1" y="326.3" width="3.6" height="2.8" rx="0.8" fill="#9da2a8"/><rect x="301.3" y="326.3" width="3.6" height="2.8" rx="0.8" fill="#9fa4aa"/><rect x="305.5" y="326.3" width="3.6" height="2.8" rx="0.8" fill="#8d9298"/><rect x="309.7" y="326.3" width="3.6" height="2.8" rx="0.8" fill="#969ba1"/><rect x="313.9" y="326.3" width="3.6" height="2.8" rx="0.8" fill="#8c9197"/><rect x="318.1" y="326.3" width="3.6" height="2.8" rx="0.8" fill="#94999f"/><rect x="322.3" y="326.3" width="3.6" height="2.8" rx="0.8" fill="#a0a5ab"/><rect x="326.5" y="326.3" width="3.6" height="2.8" rx="0.8" fill="#9ba0a6"/><rect x="330.7" y="326.3" width="3.6" height="2.8" rx="0.8" fill="#91969c"/><rect x="334.9" y="326.3" width="3.6" height="2.8" rx="0.8" fill="#898e94"/><rect x="278.2" y="329.7" width="3.6" height="2.8" rx="0.8" fill="#a0a5ab"/><rect x="282.4" y="329.7" width="3.6" height="2.8" rx="0.8" fill="#9ea3a9"/><rect x="286.6" y="329.7" width="3.6" height="2.8" rx="0.8" fill="#93989e"/><rect x="290.8" y="329.7" width="3.6" height="2.8" rx="0.8" fill="#959aa0"/><rect x="295.0" y="329.7" width="3.6" height="2.8" rx="0.8" fill="#93989e"/><rect x="299.2" y="329.7" width="3.6" height="2.8" rx="0.8" fill="#9ea3a9"/><rect x="303.4" y="329.7" width="3.6" height="2.8" rx="0.8" fill="#898e94"/><rect x="307.6" y="329.7" width="3.6" height="2.8" rx="0.8" fill="#9ea3a9"/><rect x="311.8" y="329.7" width="3.6" height="2.8" rx="0.8" fill="#8c9197"/><rect x="316.0" y="329.7" width="3.6" height="2.8" rx="0.8" fill="#8c9197"/><rect x="320.2" y="329.7" width="3.6" height="2.8" rx="0.8" fill="#8b9096"/><rect x="324.4" y="329.7" width="3.6" height="2.8" rx="0.8" fill="#878c92"/><rect x="328.6" y="329.7" width="3.6" height="2.8" rx="0.8" fill="#8b9096"/><rect x="332.8" y="329.7" width="3.6" height="2.8" rx="0.8" fill="#999ea4"/><rect x="280.3" y="333.1" width="3.6" height="2.8" rx="0.8" fill="#959aa0"/><rect x="284.5" y="333.1" width="3.6" height="2.8" rx="0.8" fill="#a0a5ab"/><rect x="288.7" y="333.1" width="3.6" height="2.8" rx="0.8" fill="#9ba0a6"/><rect x="292.9" y="333.1" width="3.6" height="2.8" rx="0.8" fill="#8b9096"/><rect x="297.1" y="333.1" width="3.6" height="2.8" rx="0.8" fill="#9a9fa5"/><rect x="301.3" y="333.1" width="3.6" height="2.8" rx="0.8" fill="#a1a6ac"/><rect x="305.5" y="333.1" width="3.6" height="2.8" rx="0.8" fill="#9a9fa5"/><rect x="309.7" y="333.1" width="3.6" height="2.8" rx="0.8" fill="#969ba1"/><rect x="313.9" y="333.1" width="3.6" height="2.8" rx="0.8" fill="#9ca1a7"/><rect x="318.1" y="333.1" width="3.6" height="2.8" rx="0.8" fill="#92979d"/><rect x="322.3" y="333.1" width="3.6" height="2.8" rx="0.8" fill="#8b9096"/><rect x="326.5" y="333.1" width="3.6" height="2.8" rx="0.8" fill="#989da3"/><rect x="330.7" y="333.1" width="3.6" height="2.8" rx="0.8" fill="#989da3"/><rect x="334.9" y="333.1" width="3.6" height="2.8" rx="0.8" fill="#8b9096"/><rect x="278.2" y="336.5" width="3.6" height="2.8" rx="0.8" fill="#878c92"/><rect x="282.4" y="336.5" width="3.6" height="2.8" rx="0.8" fill="#878c92"/><rect x="286.6" y="336.5" width="3.6" height="2.8" rx="0.8" fill="#a0a5ab"/><rect x="290.8" y="336.5" width="3.6" height="2.8" rx="0.8" fill="#9ea3a9"/><rect x="295.0" y="336.5" width="3.6" height="2.8" rx="0.8" fill="#9ba0a6"/><rect x="299.2" y="336.5" width="3.6" height="2.8" rx="0.8" fill="#8a8f95"/><rect x="303.4" y="336.5" width="3.6" height="2.8" rx="0.8" fill="#979ca2"/><rect x="307.6" y="336.5" width="3.6" height="2.8" rx="0.8" fill="#9ea3a9"/><rect x="311.8" y="336.5" width="3.6" height="2.8" rx="0.8" fill="#8b9096"/><rect x="316.0" y="336.5" width="3.6" height="2.8" rx="0.8" fill="#94999f"/><rect x="320.2" y="336.5" width="3.6" height="2.8" rx="0.8" fill="#8d9298"/><rect x="324.4" y="336.5" width="3.6" height="2.8" rx="0.8" fill="#a1a6ac"/><rect x="328.6" y="336.5" width="3.6" height="2.8" rx="0.8" fill="#8d9298"/><rect x="332.8" y="336.5" width="3.6" height="2.8" rx="0.8" fill="#878c92"/><rect x="280.3" y="339.9" width="3.6" height="2.8" rx="0.8" fill="#8f949a"/><rect x="284.5" y="339.9" width="3.6" height="2.8" rx="0.8" fill="#8d9298"/><rect x="288.7" y="339.9" width="3.6" height="2.8" rx="0.8" fill="#90959b"/><rect x="292.9" y="339.9" width="3.6" height="2.8" rx="0.8" fill="#979ca2"/><rect x="297.1" y="339.9" width="3.6" height="2.8" rx="0.8" fill="#8e9399"/><rect x="301.3" y="339.9" width="3.6" height="2.8" rx="0.8" fill="#9fa4aa"/><rect x="305.5" y="339.9" width="3.6" height="2.8" rx="0.8" fill="#999ea4"/><rect x="309.7" y="339.9" width="3.6" height="2.8" rx="0.8" fill="#91969c"/><rect x="313.9" y="339.9" width="3.6" height="2.8" rx="0.8" fill="#8f949a"/><rect x="318.1" y="339.9" width="3.6" height="2.8" rx="0.8" fill="#989da3"/><rect x="322.3" y="339.9" width="3.6" height="2.8" rx="0.8" fill="#94999f"/><rect x="326.5" y="339.9" width="3.6" height="2.8" rx="0.8" fill="#a1a6ac"/><rect x="330.7" y="339.9" width="3.6" height="2.8" rx="0.8" fill="#8b9096"/><rect x="334.9" y="339.9" width="3.6" height="2.8" rx="0.8" fill="#888d93"/><rect x="278.2" y="343.3" width="3.6" height="2.8" rx="0.8" fill="#9ea3a9"/><rect x="282.4" y="343.3" width="3.6" height="2.8" rx="0.8" fill="#92979d"/><rect x="286.6" y="343.3" width="3.6" height="2.8" rx="0.8" fill="#959aa0"/><rect x="290.8" y="343.3" width="3.6" height="2.8" rx="0.8" fill="#9ca1a7"/><rect x="295.0" y="343.3" width="3.6" height="2.8" rx="0.8" fill="#999ea4"/><rect x="299.2" y="343.3" width="3.6" height="2.8" rx="0.8" fill="#a1a6ac"/><rect x="303.4" y="343.3" width="3.6" height="2.8" rx="0.8" fill="#979ca2"/><rect x="307.6" y="343.3" width="3.6" height="2.8" rx="0.8" fill="#94999f"/><rect x="311.8" y="343.3" width="3.6" height="2.8" rx="0.8" fill="#a1a6ac"/><rect x="316.0" y="343.3" width="3.6" height="2.8" rx="0.8" fill="#979ca2"/><rect x="320.2" y="343.3" width="3.6" height="2.8" rx="0.8" fill="#8b9096"/><rect x="324.4" y="343.3" width="3.6" height="2.8" rx="0.8" fill="#989da3"/><rect x="328.6" y="343.3" width="3.6" height="2.8" rx="0.8" fill="#8b9096"/><rect x="332.8" y="343.3" width="3.6" height="2.8" rx="0.8" fill="#979ca2"/><rect x="280.3" y="346.7" width="3.6" height="2.8" rx="0.8" fill="#979ca2"/><rect x="284.5" y="346.7" width="3.6" height="2.8" rx="0.8" fill="#878c92"/><rect x="288.7" y="346.7" width="3.6" height="2.8" rx="0.8" fill="#959aa0"/><rect x="292.9" y="346.7" width="3.6" height="2.8" rx="0.8" fill="#9fa4aa"/><rect x="297.1" y="346.7" width="3.6" height="2.8" rx="0.8" fill="#8c9197"/><rect x="301.3" y="346.7" width="3.6" height="2.8" rx="0.8" fill="#9a9fa5"/><rect x="305.5" y="346.7" width="3.6" height="2.8" rx="0.8" fill="#878c92"/><rect x="309.7" y="346.7" width="3.6" height="2.8" rx="0.8" fill="#9fa4aa"/><rect x="313.9" y="346.7" width="3.6" height="2.8" rx="0.8" fill="#a0a5ab"/><rect x="318.1" y="346.7" width="3.6" height="2.8" rx="0.8" fill="#8b9096"/><rect x="322.3" y="346.7" width="3.6" height="2.8" rx="0.8" fill="#8c9197"/><rect x="326.5" y="346.7" width="3.6" height="2.8" rx="0.8" fill="#8b9096"/><rect x="330.7" y="346.7" width="3.6" height="2.8" rx="0.8" fill="#969ba1"/><rect x="334.9" y="346.7" width="3.6" height="2.8" rx="0.8" fill="#9a9fa5"/><rect x="278.2" y="350.1" width="3.6" height="2.8" rx="0.8" fill="#9ea3a9"/><rect x="282.4" y="350.1" width="3.6" height="2.8" rx="0.8" fill="#8a8f95"/><rect x="286.6" y="350.1" width="3.6" height="2.8" rx="0.8" fill="#989da3"/><rect x="290.8" y="350.1" width="3.6" height="2.8" rx="0.8" fill="#888d93"/><rect x="295.0" y="350.1" width="3.6" height="2.8" rx="0.8" fill="#91969c"/><rect x="299.2" y="350.1" width="3.6" height="2.8" rx="0.8" fill="#9ca1a7"/><rect x="303.4" y="350.1" width="3.6" height="2.8" rx="0.8" fill="#979ca2"/><rect x="307.6" y="350.1" width="3.6" height="2.8" rx="0.8" fill="#979ca2"/><rect x="311.8" y="350.1" width="3.6" height="2.8" rx="0.8" fill="#989da3"/><rect x="316.0" y="350.1" width="3.6" height="2.8" rx="0.8" fill="#969ba1"/><rect x="320.2" y="350.1" width="3.6" height="2.8" rx="0.8" fill="#a0a5ab"/><rect x="324.4" y="350.1" width="3.6" height="2.8" rx="0.8" fill="#9fa4aa"/><rect x="328.6" y="350.1" width="3.6" height="2.8" rx="0.8" fill="#8a8f95"/><rect x="332.8" y="350.1" width="3.6" height="2.8" rx="0.8" fill="#989da3"/><rect x="280.3" y="353.5" width="3.6" height="2.8" rx="0.8" fill="#888d93"/><rect x="284.5" y="353.5" width="3.6" height="2.8" rx="0.8" fill="#8e9399"/><rect x="288.7" y="353.5" width="3.6" height="2.8" rx="0.8" fill="#8d9298"/><rect x="292.9" y="353.5" width="3.6" height="2.8" rx="0.8" fill="#8f949a"/><rect x="297.1" y="353.5" width="3.6" height="2.8" rx="0.8" fill="#888d93"/><rect x="301.3" y="353.5" width="3.6" height="2.8" rx="0.8" fill="#9fa4aa"/><rect x="305.5" y="353.5" width="3.6" height="2.8" rx="0.8" fill="#8a8f95"/><rect x="309.7" y="353.5" width="3.6" height="2.8" rx="0.8" fill="#979ca2"/><rect x="313.9" y="353.5" width="3.6" height="2.8" rx="0.8" fill="#959aa0"/><rect x="318.1" y="353.5" width="3.6" height="2.8" rx="0.8" fill="#989da3"/><rect x="322.3" y="353.5" width="3.6" height="2.8" rx="0.8" fill="#878c92"/><rect x="326.5" y="353.5" width="3.6" height="2.8" rx="0.8" fill="#9fa4aa"/><rect x="330.7" y="353.5" width="3.6" height="2.8" rx="0.8" fill="#898e94"/><rect x="334.9" y="353.5" width="3.6" height="2.8" rx="0.8" fill="#959aa0"/><rect x="278.2" y="356.9" width="3.6" height="2.8" rx="0.8" fill="#91969c"/><rect x="282.4" y="356.9" width="3.6" height="2.8" rx="0.8" fill="#9a9fa5"/><rect x="286.6" y="356.9" width="3.6" height="2.8" rx="0.8" fill="#979ca2"/><rect x="290.8" y="356.9" width="3.6" height="2.8" rx="0.8" fill="#9a9fa5"/><rect x="295.0" y="356.9" width="3.6" height="2.8" rx="0.8" fill="#979ca2"/><rect x="299.2" y="356.9" width="3.6" height="2.8" rx="0.8" fill="#8d9298"/><rect x="303.4" y="356.9" width="3.6" height="2.8" rx="0.8" fill="#9da2a8"/><rect x="307.6" y="356.9" width="3.6" height="2.8" rx="0.8" fill="#8f949a"/><rect x="311.8" y="356.9" width="3.6" height="2.8" rx="0.8" fill="#959aa0"/><rect x="316.0" y="356.9" width="3.6" height="2.8" rx="0.8" fill="#979ca2"/><rect x="320.2" y="356.9" width="3.6" height="2.8" rx="0.8" fill="#989da3"/><rect x="324.4" y="356.9" width="3.6" height="2.8" rx="0.8" fill="#a0a5ab"/><rect x="328.6" y="356.9" width="3.6" height="2.8" rx="0.8" fill="#969ba1"/><rect x="332.8" y="356.9" width="3.6" height="2.8" rx="0.8" fill="#979ca2"/><rect x="280.3" y="360.3" width="3.6" height="2.8" rx="0.8" fill="#8e9399"/><rect x="284.5" y="360.3" width="3.6" height="2.8" rx="0.8" fill="#9da2a8"/><rect x="288.7" y="360.3" width="3.6" height="2.8" rx="0.8" fill="#979ca2"/><rect x="292.9" y="360.3" width="3.6" height="2.8" rx="0.8" fill="#8f949a"/><rect x="297.1" y="360.3" width="3.6" height="2.8" rx="0.8" fill="#989da3"/><rect x="301.3" y="360.3" width="3.6" height="2.8" rx="0.8" fill="#8d9298"/><rect x="305.5" y="360.3" width="3.6" height="2.8" rx="0.8" fill="#a1a6ac"/><rect x="309.7" y="360.3" width="3.6" height="2.8" rx="0.8" fill="#959aa0"/><rect x="313.9" y="360.3" width="3.6" height="2.8" rx="0.8" fill="#8b9096"/><rect x="318.1" y="360.3" width="3.6" height="2.8" rx="0.8" fill="#94999f"/><rect x="322.3" y="360.3" width="3.6" height="2.8" rx="0.8" fill="#8a8f95"/><rect x="326.5" y="360.3" width="3.6" height="2.8" rx="0.8" fill="#93989e"/><rect x="330.7" y="360.3" width="3.6" height="2.8" rx="0.8" fill="#959aa0"/><rect x="334.9" y="360.3" width="3.6" height="2.8" rx="0.8" fill="#91969c"/><rect x="278.2" y="363.7" width="3.6" height="2.8" rx="0.8" fill="#898e94"/><rect x="282.4" y="363.7" width="3.6" height="2.8" rx="0.8" fill="#9ca1a7"/><rect x="286.6" y="363.7" width="3.6" height="2.8" rx="0.8" fill="#8e9399"/><rect x="290.8" y="363.7" width="3.6" height="2.8" rx="0.8" fill="#94999f"/><rect x="295.0" y="363.7" width="3.6" height="2.8" rx="0.8" fill="#898e94"/><rect x="299.2" y="363.7" width="3.6" height="2.8" rx="0.8" fill="#8d9298"/><rect x="303.4" y="363.7" width="3.6" height="2.8" rx="0.8" fill="#9ca1a7"/><rect x="307.6" y="363.7" width="3.6" height="2.8" rx="0.8" fill="#90959b"/><rect x="311.8" y="363.7" width="3.6" height="2.8" rx="0.8" fill="#a0a5ab"/><rect x="316.0" y="363.7" width="3.6" height="2.8" rx="0.8" fill="#8a8f95"/><rect x="320.2" y="363.7" width="3.6" height="2.8" rx="0.8" fill="#9fa4aa"/><rect x="324.4" y="363.7" width="3.6" height="2.8" rx="0.8" fill="#8b9096"/><rect x="328.6" y="363.7" width="3.6" height="2.8" rx="0.8" fill="#9da2a8"/><rect x="332.8" y="363.7" width="3.6" height="2.8" rx="0.8" fill="#9ba0a6"/></g>
<rect x="280" y="321.6" width="56.6" height="5.5" fill="#d6d8d8"/>
<rect x="280" y="321.6" width="20" height="3.8" fill="#4e6a40" filter="url(#b05)"/>
<rect x="319.5" y="321.6" width="1.5" height="6" fill="#444"/>
<rect x="323" y="321.6" width="5" height="8" fill="#3a8a50" filter="url(#b05)"/>
<rect x="330" y="321.6" width="6.6" height="11" fill="#a87040" filter="url(#b05)"/>
<path d="M280,329 L285,331 L288,339 L281,340.5 Z" fill="#8a6a4a" filter="url(#b05)"/>
<path d="M294.5,336 C295,332 300,330.5 304,332 C307.5,334.5 307,339.5 303,341 C299,341.5 295.5,339.5 294.5,336 Z" fill="#1c1c22" filter="url(#b05)"/>
<path d="M298,341 L297,344 M303,341 L304,344" stroke="#2a2a2a" stroke-width="0.8"/>
<circle cx="303.5" cy="349.8" r="1.8" fill="#f0ead8" filter="url(#b05)"/>
</g>
<g clip-path="url(#cq5)">
<rect x="349.3" y="321.5" width="56.6" height="42" fill="url(#gpave)"/>
<g filter="url(#b05)"><rect x="349.6" y="332.3" width="3.6" height="2.8" rx="0.8" fill="#9ca1a7"/><rect x="353.8" y="332.3" width="3.6" height="2.8" rx="0.8" fill="#92979d"/><rect x="358.0" y="332.3" width="3.6" height="2.8" rx="0.8" fill="#8b9096"/><rect x="362.2" y="332.3" width="3.6" height="2.8" rx="0.8" fill="#8f949a"/><rect x="366.4" y="332.3" width="3.6" height="2.8" rx="0.8" fill="#8b9096"/><rect x="370.6" y="332.3" width="3.6" height="2.8" rx="0.8" fill="#959aa0"/><rect x="374.8" y="332.3" width="3.6" height="2.8" rx="0.8" fill="#8e9399"/><rect x="379.0" y="332.3" width="3.6" height="2.8" rx="0.8" fill="#9ea3a9"/><rect x="383.2" y="332.3" width="3.6" height="2.8" rx="0.8" fill="#8a8f95"/><rect x="387.4" y="332.3" width="3.6" height="2.8" rx="0.8" fill="#93989e"/><rect x="391.6" y="332.3" width="3.6" height="2.8" rx="0.8" fill="#969ba1"/><rect x="395.8" y="332.3" width="3.6" height="2.8" rx="0.8" fill="#8c9197"/><rect x="400.0" y="332.3" width="3.6" height="2.8" rx="0.8" fill="#9ca1a7"/><rect x="404.2" y="332.3" width="3.6" height="2.8" rx="0.8" fill="#a1a6ac"/><rect x="347.5" y="335.7" width="3.6" height="2.8" rx="0.8" fill="#8e9399"/><rect x="351.7" y="335.7" width="3.6" height="2.8" rx="0.8" fill="#8c9197"/><rect x="355.9" y="335.7" width="3.6" height="2.8" rx="0.8" fill="#9da2a8"/><rect x="360.1" y="335.7" width="3.6" height="2.8" rx="0.8" fill="#94999f"/><rect x="364.3" y="335.7" width="3.6" height="2.8" rx="0.8" fill="#979ca2"/><rect x="368.5" y="335.7" width="3.6" height="2.8" rx="0.8" fill="#93989e"/><rect x="372.7" y="335.7" width="3.6" height="2.8" rx="0.8" fill="#91969c"/><rect x="376.9" y="335.7" width="3.6" height="2.8" rx="0.8" fill="#94999f"/><rect x="381.1" y="335.7" width="3.6" height="2.8" rx="0.8" fill="#8d9298"/><rect x="385.3" y="335.7" width="3.6" height="2.8" rx="0.8" fill="#92979d"/><rect x="389.5" y="335.7" width="3.6" height="2.8" rx="0.8" fill="#91969c"/><rect x="393.7" y="335.7" width="3.6" height="2.8" rx="0.8" fill="#898e94"/><rect x="397.9" y="335.7" width="3.6" height="2.8" rx="0.8" fill="#9ea3a9"/><rect x="402.1" y="335.7" width="3.6" height="2.8" rx="0.8" fill="#92979d"/><rect x="349.6" y="339.1" width="3.6" height="2.8" rx="0.8" fill="#878c92"/><rect x="353.8" y="339.1" width="3.6" height="2.8" rx="0.8" fill="#91969c"/><rect x="358.0" y="339.1" width="3.6" height="2.8" rx="0.8" fill="#989da3"/><rect x="362.2" y="339.1" width="3.6" height="2.8" rx="0.8" fill="#959aa0"/><rect x="366.4" y="339.1" width="3.6" height="2.8" rx="0.8" fill="#959aa0"/><rect x="370.6" y="339.1" width="3.6" height="2.8" rx="0.8" fill="#9da2a8"/><rect x="374.8" y="339.1" width="3.6" height="2.8" rx="0.8" fill="#878c92"/><rect x="379.0" y="339.1" width="3.6" height="2.8" rx="0.8" fill="#93989e"/><rect x="383.2" y="339.1" width="3.6" height="2.8" rx="0.8" fill="#91969c"/><rect x="387.4" y="339.1" width="3.6" height="2.8" rx="0.8" fill="#979ca2"/><rect x="391.6" y="339.1" width="3.6" height="2.8" rx="0.8" fill="#9a9fa5"/><rect x="395.8" y="339.1" width="3.6" height="2.8" rx="0.8" fill="#90959b"/><rect x="400.0" y="339.1" width="3.6" height="2.8" rx="0.8" fill="#979ca2"/><rect x="404.2" y="339.1" width="3.6" height="2.8" rx="0.8" fill="#898e94"/><rect x="347.5" y="342.5" width="3.6" height="2.8" rx="0.8" fill="#8a8f95"/><rect x="351.7" y="342.5" width="3.6" height="2.8" rx="0.8" fill="#a0a5ab"/><rect x="355.9" y="342.5" width="3.6" height="2.8" rx="0.8" fill="#8e9399"/><rect x="360.1" y="342.5" width="3.6" height="2.8" rx="0.8" fill="#8a8f95"/><rect x="364.3" y="342.5" width="3.6" height="2.8" rx="0.8" fill="#898e94"/><rect x="368.5" y="342.5" width="3.6" height="2.8" rx="0.8" fill="#8f949a"/><rect x="372.7" y="342.5" width="3.6" height="2.8" rx="0.8" fill="#8f949a"/><rect x="376.9" y="342.5" width="3.6" height="2.8" rx="0.8" fill="#888d93"/><rect x="381.1" y="342.5" width="3.6" height="2.8" rx="0.8" fill="#9fa4aa"/><rect x="385.3" y="342.5" width="3.6" height="2.8" rx="0.8" fill="#8c9197"/><rect x="389.5" y="342.5" width="3.6" height="2.8" rx="0.8" fill="#8f949a"/><rect x="393.7" y="342.5" width="3.6" height="2.8" rx="0.8" fill="#9fa4aa"/><rect x="397.9" y="342.5" width="3.6" height="2.8" rx="0.8" fill="#8b9096"/><rect x="402.1" y="342.5" width="3.6" height="2.8" rx="0.8" fill="#a1a6ac"/><rect x="349.6" y="345.9" width="3.6" height="2.8" rx="0.8" fill="#94999f"/><rect x="353.8" y="345.9" width="3.6" height="2.8" rx="0.8" fill="#9ca1a7"/><rect x="358.0" y="345.9" width="3.6" height="2.8" rx="0.8" fill="#a1a6ac"/><rect x="362.2" y="345.9" width="3.6" height="2.8" rx="0.8" fill="#8f949a"/><rect x="366.4" y="345.9" width="3.6" height="2.8" rx="0.8" fill="#93989e"/><rect x="370.6" y="345.9" width="3.6" height="2.8" rx="0.8" fill="#8b9096"/><rect x="374.8" y="345.9" width="3.6" height="2.8" rx="0.8" fill="#989da3"/><rect x="379.0" y="345.9" width="3.6" height="2.8" rx="0.8" fill="#979ca2"/><rect x="383.2" y="345.9" width="3.6" height="2.8" rx="0.8" fill="#999ea4"/><rect x="387.4" y="345.9" width="3.6" height="2.8" rx="0.8" fill="#969ba1"/><rect x="391.6" y="345.9" width="3.6" height="2.8" rx="0.8" fill="#9da2a8"/><rect x="395.8" y="345.9" width="3.6" height="2.8" rx="0.8" fill="#91969c"/><rect x="400.0" y="345.9" width="3.6" height="2.8" rx="0.8" fill="#898e94"/><rect x="404.2" y="345.9" width="3.6" height="2.8" rx="0.8" fill="#8f949a"/><rect x="347.5" y="349.3" width="3.6" height="2.8" rx="0.8" fill="#888d93"/><rect x="351.7" y="349.3" width="3.6" height="2.8" rx="0.8" fill="#a0a5ab"/><rect x="355.9" y="349.3" width="3.6" height="2.8" rx="0.8" fill="#9da2a8"/><rect x="360.1" y="349.3" width="3.6" height="2.8" rx="0.8" fill="#8c9197"/><rect x="364.3" y="349.3" width="3.6" height="2.8" rx="0.8" fill="#94999f"/><rect x="368.5" y="349.3" width="3.6" height="2.8" rx="0.8" fill="#898e94"/><rect x="372.7" y="349.3" width="3.6" height="2.8" rx="0.8" fill="#8f949a"/><rect x="376.9" y="349.3" width="3.6" height="2.8" rx="0.8" fill="#878c92"/><rect x="381.1" y="349.3" width="3.6" height="2.8" rx="0.8" fill="#9ba0a6"/><rect x="385.3" y="349.3" width="3.6" height="2.8" rx="0.8" fill="#898e94"/><rect x="389.5" y="349.3" width="3.6" height="2.8" rx="0.8" fill="#a0a5ab"/><rect x="393.7" y="349.3" width="3.6" height="2.8" rx="0.8" fill="#8f949a"/><rect x="397.9" y="349.3" width="3.6" height="2.8" rx="0.8" fill="#898e94"/><rect x="402.1" y="349.3" width="3.6" height="2.8" rx="0.8" fill="#9a9fa5"/><rect x="349.6" y="352.7" width="3.6" height="2.8" rx="0.8" fill="#8e9399"/><rect x="353.8" y="352.7" width="3.6" height="2.8" rx="0.8" fill="#898e94"/><rect x="358.0" y="352.7" width="3.6" height="2.8" rx="0.8" fill="#8f949a"/><rect x="362.2" y="352.7" width="3.6" height="2.8" rx="0.8" fill="#8a8f95"/><rect x="366.4" y="352.7" width="3.6" height="2.8" rx="0.8" fill="#959aa0"/><rect x="370.6" y="352.7" width="3.6" height="2.8" rx="0.8" fill="#878c92"/><rect x="374.8" y="352.7" width="3.6" height="2.8" rx="0.8" fill="#91969c"/><rect x="379.0" y="352.7" width="3.6" height="2.8" rx="0.8" fill="#989da3"/><rect x="383.2" y="352.7" width="3.6" height="2.8" rx="0.8" fill="#94999f"/><rect x="387.4" y="352.7" width="3.6" height="2.8" rx="0.8" fill="#8f949a"/><rect x="391.6" y="352.7" width="3.6" height="2.8" rx="0.8" fill="#9a9fa5"/><rect x="395.8" y="352.7" width="3.6" height="2.8" rx="0.8" fill="#8b9096"/><rect x="400.0" y="352.7" width="3.6" height="2.8" rx="0.8" fill="#888d93"/><rect x="404.2" y="352.7" width="3.6" height="2.8" rx="0.8" fill="#979ca2"/><rect x="347.5" y="356.1" width="3.6" height="2.8" rx="0.8" fill="#9da2a8"/><rect x="351.7" y="356.1" width="3.6" height="2.8" rx="0.8" fill="#8e9399"/><rect x="355.9" y="356.1" width="3.6" height="2.8" rx="0.8" fill="#8a8f95"/><rect x="360.1" y="356.1" width="3.6" height="2.8" rx="0.8" fill="#8c9197"/><rect x="364.3" y="356.1" width="3.6" height="2.8" rx="0.8" fill="#8f949a"/><rect x="368.5" y="356.1" width="3.6" height="2.8" rx="0.8" fill="#888d93"/><rect x="372.7" y="356.1" width="3.6" height="2.8" rx="0.8" fill="#8c9197"/><rect x="376.9" y="356.1" width="3.6" height="2.8" rx="0.8" fill="#8d9298"/><rect x="381.1" y="356.1" width="3.6" height="2.8" rx="0.8" fill="#90959b"/><rect x="385.3" y="356.1" width="3.6" height="2.8" rx="0.8" fill="#9ba0a6"/><rect x="389.5" y="356.1" width="3.6" height="2.8" rx="0.8" fill="#90959b"/><rect x="393.7" y="356.1" width="3.6" height="2.8" rx="0.8" fill="#979ca2"/><rect x="397.9" y="356.1" width="3.6" height="2.8" rx="0.8" fill="#9fa4aa"/><rect x="402.1" y="356.1" width="3.6" height="2.8" rx="0.8" fill="#8d9298"/><rect x="349.6" y="359.5" width="3.6" height="2.8" rx="0.8" fill="#90959b"/><rect x="353.8" y="359.5" width="3.6" height="2.8" rx="0.8" fill="#959aa0"/><rect x="358.0" y="359.5" width="3.6" height="2.8" rx="0.8" fill="#979ca2"/><rect x="362.2" y="359.5" width="3.6" height="2.8" rx="0.8" fill="#9ca1a7"/><rect x="366.4" y="359.5" width="3.6" height="2.8" rx="0.8" fill="#8c9197"/><rect x="370.6" y="359.5" width="3.6" height="2.8" rx="0.8" fill="#8f949a"/><rect x="374.8" y="359.5" width="3.6" height="2.8" rx="0.8" fill="#92979d"/><rect x="379.0" y="359.5" width="3.6" height="2.8" rx="0.8" fill="#a0a5ab"/><rect x="383.2" y="359.5" width="3.6" height="2.8" rx="0.8" fill="#878c92"/><rect x="387.4" y="359.5" width="3.6" height="2.8" rx="0.8" fill="#8f949a"/><rect x="391.6" y="359.5" width="3.6" height="2.8" rx="0.8" fill="#888d93"/><rect x="395.8" y="359.5" width="3.6" height="2.8" rx="0.8" fill="#878c92"/><rect x="400.0" y="359.5" width="3.6" height="2.8" rx="0.8" fill="#878c92"/><rect x="404.2" y="359.5" width="3.6" height="2.8" rx="0.8" fill="#9ea3a9"/><rect x="347.5" y="362.9" width="3.6" height="2.8" rx="0.8" fill="#979ca2"/><rect x="351.7" y="362.9" width="3.6" height="2.8" rx="0.8" fill="#989da3"/><rect x="355.9" y="362.9" width="3.6" height="2.8" rx="0.8" fill="#8d9298"/><rect x="360.1" y="362.9" width="3.6" height="2.8" rx="0.8" fill="#979ca2"/><rect x="364.3" y="362.9" width="3.6" height="2.8" rx="0.8" fill="#969ba1"/><rect x="368.5" y="362.9" width="3.6" height="2.8" rx="0.8" fill="#8e9399"/><rect x="372.7" y="362.9" width="3.6" height="2.8" rx="0.8" fill="#959aa0"/><rect x="376.9" y="362.9" width="3.6" height="2.8" rx="0.8" fill="#8a8f95"/><rect x="381.1" y="362.9" width="3.6" height="2.8" rx="0.8" fill="#9ca1a7"/><rect x="385.3" y="362.9" width="3.6" height="2.8" rx="0.8" fill="#a1a6ac"/><rect x="389.5" y="362.9" width="3.6" height="2.8" rx="0.8" fill="#9ba0a6"/><rect x="393.7" y="362.9" width="3.6" height="2.8" rx="0.8" fill="#94999f"/><rect x="397.9" y="362.9" width="3.6" height="2.8" rx="0.8" fill="#9ca1a7"/><rect x="402.1" y="362.9" width="3.6" height="2.8" rx="0.8" fill="#969ba1"/></g>
<rect x="349.3" y="321.5" width="56.6" height="12" fill="#dcdedf"/>
<path d="M349.3,321.5 L357,321.5 C359.5,326 358.5,331 355.5,335 L349.3,335 Z" fill="#4a7038" filter="url(#b05)"/>
<rect x="374.8" y="321.5" width="1.6" height="11.5" fill="#555"/>
<rect x="383.5" y="321.5" width="5.5" height="11.5" fill="#3a9050" filter="url(#b05)"/>
<rect x="388" y="328" width="2.5" height="5" fill="#d8c030"/>
<rect x="391.5" y="324" width="7" height="12" fill="#a87048" filter="url(#b05)"/>
<rect x="399.5" y="325" width="6.4" height="12" fill="#7ab0c8" filter="url(#b05)"/>
<path d="M355.5,352.5 L365,346 C369,341.5 375,339 380,338 C383,337.8 384.5,339.5 383.5,341.5 C380.5,346 375,349 368.5,350.5 L357,353.5 Z" fill="#181c28" filter="url(#b05)"/>
<path d="M370,349.5 L369,357 M373.5,349 L374.5,356" stroke="#181c28" stroke-width="1"/>
<circle cx="388.5" cy="345.5" r="1.3" fill="#eeeeea"/>
</g>
<!-- Row 3: GMC photos -->
<rect x="47.9" y="502.1" width="57.2" height="40.7" fill="url(#gframe)"/>
<rect x="48.3" y="502.7" width="56.4" height="4.1" fill="#3a3a3a"/>
<text x="50" y="505.8" font-family="Liberation Sans, sans-serif" font-size="2.8" fill="#ddd" textLength="52" lengthAdjust="spacingAndGlyphs">GMC Recommends Rotating Your Tires 7,500 Miles</text>
<rect x="54.5" y="507.9" width="44.7" height="32.5" fill="#e8e8e8"/>
<g clip-path="url(#cr1)">
<rect x="55" y="508.4" width="43.7" height="31.5" fill="#1e2a68"/>
<ellipse cx="77" cy="541" rx="26" ry="7" fill="#6a6a6e"/>
<path d="M76,520 C79,513 86,512 92,513 C97,516 99,522 98.7,530 L98.7,538 C94,539 86,539 82,536 C78,532 75,527 76,520 Z" fill="#c8967c" filter="url(#b05)"/>
<path d="M78,521 C80,518 84,518 86,521 M78,526 C80,523 84,523 86,526" stroke="#a87060" stroke-width="0.7" fill="none"/>
<rect x="78.5" y="508.4" width="1.4" height="22" fill="#e0e4ec"/>
</g>
<rect x="128.5" y="501.9" width="55.4" height="40.5" fill="url(#gframe)"/>
<rect x="134" y="505.7" width="45.2" height="33.1" fill="#e8e8e8"/>
<g clip-path="url(#cr2)">
<rect x="134.4" y="506.1" width="44.4" height="32.3" fill="#121214"/>
<rect x="139" y="506.1" width="14" height="15" fill="#1c3472" filter="url(#b07)"/>
<rect x="171" y="523" width="8" height="16" fill="#1c3c7c" filter="url(#b07)"/>
<ellipse cx="159.5" cy="518" rx="19.5" ry="17" fill="#2a2a2c"/>
<ellipse cx="159.5" cy="517" rx="16" ry="13.8" fill="#9a9aa0"/>
<ellipse cx="159.5" cy="517" rx="14.2" ry="12.2" fill="#303034"/>
<path d="M162.9,516.5 L172.7,517.5 L172.1,520.4 L162.5,518.5 Z M162.6,518.3 L169.8,524.0 L167.4,526.0 L160.9,519.7 Z M161.1,519.6 L163.0,527.8 L159.6,528.2 L158.8,519.9 Z M159.0,519.9 L154.9,527.5 L151.8,526.1 L156.9,519.0 Z M157.1,519.1 L148.5,523.2 L147.0,520.6 L156.0,517.3 Z M156.1,517.5 L146.3,516.5 L146.9,513.6 L156.5,515.5 Z M156.4,515.7 L149.2,510.0 L151.6,508.0 L158.1,514.3 Z M157.9,514.4 L156.0,506.2 L159.4,505.8 L160.2,514.1 Z M160.0,514.1 L164.1,506.5 L167.2,507.9 L162.1,515.0 Z M161.9,514.9 L170.5,510.8 L172.0,513.4 L163.0,516.7 Z" fill="#b4b4ba" filter="url(#b05)"/>
<ellipse cx="159.5" cy="517" rx="4" ry="3.5" fill="#3c3c40"/>
<circle cx="159.5" cy="517" r="1.5" fill="#8a8a90"/>
</g>
<rect x="184" y="501.9" width="56.6" height="40.5" fill="url(#gframe)"/>
<rect x="189.7" y="505.5" width="45.5" height="32.8" fill="#e8e8e8"/>
<g clip-path="url(#cr3)">
<rect x="190.1" y="505.9" width="44.7" height="32" fill="#c4ccc6"/>
<path d="M190.1,505.9 L212,505.9 L190.1,516 Z" fill="#2a5a98"/>
<path d="M190.1,516 L212,505.9 L214,505.9 L190.1,517.2 Z" fill="#d8dcd8"/>
<path d="M198,537.9 L234.8,527 L234.8,537.9 Z" fill="#202020"/>
<path d="M205,537.9 L234.8,530 L234.8,537.9 Z" fill="#4a4a4a"/>
<text x="214" y="524.5" text-anchor="middle" font-family="Liberation Sans, sans-serif" font-weight="bold" font-size="8.5" fill="#1a1a1e" transform="rotate(-24 214 521)" textLength="38" lengthAdjust="spacingAndGlyphs">Certified Service</text>
</g>
<rect x="241.2" y="501.9" width="56.8" height="40.5" fill="url(#gframe)"/>
<rect x="247" y="506" width="45.2" height="32.6" fill="#e8e8e8"/>
<g clip-path="url(#cr4)">
<rect x="247.4" y="506.4" width="44.4" height="31.8" fill="#e2e4e0"/>
<path d="M262,508 C272,506.5 284,507 289,510 L290,524 L262,526 Z" fill="#cdd0ca" filter="url(#b05)"/>
<path d="M265,511 C272,509.5 282,510 286,512 L286,520 L266,522 Z" fill="#e4e6e2" filter="url(#b05)"/>
<path d="M247.4,506.4 L259,506.4 C262,512 262,522 259,530 L247.4,530 Z" fill="#1c2028" filter="url(#b05)"/>
<path d="M247.4,527 C255,524 263,523 271,522 C279,520.5 286,519 291.8,518.5 L291.8,526 C284,527.5 277,529.5 270,533 C262,536.5 254,538.2 247.4,538.2 Z" fill="#c6a07e" filter="url(#b05)"/>
<path d="M247.4,533 C253,531.5 260,532.5 266,534.5 L264,538.2 L247.4,538.2 Z" fill="#8e643e" filter="url(#b05)"/>
<ellipse cx="279" cy="536.5" rx="6" ry="3" fill="#1a1a1a"/>
<rect x="285" y="530" width="6.8" height="8.2" fill="#f2f2f2"/>
</g>
<rect x="300" y="501.5" width="56.6" height="41.9" fill="url(#gframe)"/>
<rect x="304.9" y="505.3" width="46.2" height="33.8" fill="#e8e8e8"/>
<g clip-path="url(#cr5)">
<rect x="305.3" y="505.7" width="45.4" height="33" fill="#eeefee"/>
<rect x="305.3" y="510" width="6" height="9" fill="#b4cc9c" filter="url(#b07)"/>
<path d="M327,512 C334,508.5 346,508.5 350.7,511 L350.7,538.7 L331,538.7 Z" fill="#c8cac4" filter="url(#b05)"/>
<path d="M335,512.5 L350.7,511.5 L350.7,520 L337,521 Z" fill="#40444a" filter="url(#b05)"/>
<path d="M318,512 C321,510.5 324,512 325,517 L323.5,534 L321.5,534 L322,518 C321.5,514 320,513 318,513 Z" fill="#4a4e56" filter="url(#b05)"/>
<path d="M309,516 C309,513 311,512 313,512 C316,512 318,514 318,517 L317.5,538.7 L310.5,538.7 Z" fill="#1c2238" filter="url(#b05)"/>
<ellipse cx="313.2" cy="510.5" rx="2.1" ry="2.4" fill="#8a6a58"/>
<path d="M323,517 C323,514.5 325,514 327,514 C330,514 331.5,515.5 331.5,518 L331.5,529 L323.5,529 Z" fill="#1c2238" filter="url(#b05)"/>
<rect x="323.8" y="528.5" width="7.5" height="5.5" fill="#707070"/>
<path d="M325,534 L325,538.7 M329.5,534 L329.5,538.7" stroke="#b89880" stroke-width="1.2"/>
<ellipse cx="327" cy="512" rx="2" ry="2.3" fill="#9a7460"/>
<ellipse cx="347.5" cy="535.5" rx="2.8" ry="3.2" fill="#1e1e1e"/>
</g>
<g clip-path="url(#cr6)">
<rect x="358.1" y="501.7" width="57.2" height="18.6" fill="#22306c"/>
<path d="M385,520.3 C386,514 391,511.5 400,511.5 C405,511.5 409,513.5 410,520.3 Z" fill="#3e443e" filter="url(#b05)"/>
<ellipse cx="372.8" cy="509.5" rx="3.2" ry="4.6" fill="#c09a84" filter="url(#b05)"/>
<path d="M366,520.3 C367,516 371,515.5 373,515.5 C376,515.5 380,516 381,520.3 Z" fill="#e8e8ee" filter="url(#b05)"/>
<rect x="358.1" y="520.3" width="57.2" height="23" fill="#dc1e3c"/>
<rect x="358.1" y="522.8" width="57.2" height="0.8" fill="#f4d0d8"/>
<text x="358.3" y="541.3" font-family="Liberation Sans, sans-serif" font-weight="bold" font-size="21.5" fill="#ffffff" textLength="63.5" lengthAdjust="spacingAndGlyphs">GMC</text>
<rect x="358.1" y="541.6" width="57.2" height="0.6" fill="#f4d0d8"/>
</g>
<g clip-path="url(#cr7)">
<rect x="436.9" y="501.7" width="56.9" height="41.4" fill="url(#gpurple)"/>
<ellipse cx="440" cy="520" rx="4" ry="14" fill="#b8a0d8" opacity="0.7" filter="url(#b1)"/>
<ellipse cx="462" cy="541" rx="16" ry="2.5" fill="#a888c8" opacity="0.7" filter="url(#b1)"/>
<ellipse cx="486" cy="504" rx="10" ry="3" fill="#2a3020" opacity="0.9" filter="url(#b1)"/>
<ellipse cx="455" cy="503" rx="12" ry="2" fill="#201830" opacity="0.8" filter="url(#b1)"/>
<ellipse cx="491" cy="525" rx="3" ry="10" fill="#c0a8d8" opacity="0.5" filter="url(#b1)"/>
</g>
<rect x="441.9" y="506" width="47" height="32.8" fill="#141414"/>
<rect x="443.7" y="507.3" width="43.3" height="29.7" fill="#b2b2b2"/>
<rect x="457.3" y="512.2" width="16.1" height="5.6" fill="#dc2040"/>
<text x="465.3" y="516.9" text-anchor="middle" font-family="Liberation Sans, sans-serif" font-weight="bold" font-size="5" fill="#fff" textLength="12" lengthAdjust="spacingAndGlyphs">GMC</text>
<text x="450.5" y="523.4" font-family="Liberation Sans, sans-serif" font-size="5.4" fill="#333" textLength="29.7" lengthAdjust="spacingAndGlyphs">Certified Service</text>
<text x="451.2" y="531.3" font-family="Liberation Sans, sans-serif" font-style="italic" font-size="3.2" fill="#f0f0f0" textLength="28.4" lengthAdjust="spacingAndGlyphs">"Preferring Your Time"</text>

</svg>
</body></html>
